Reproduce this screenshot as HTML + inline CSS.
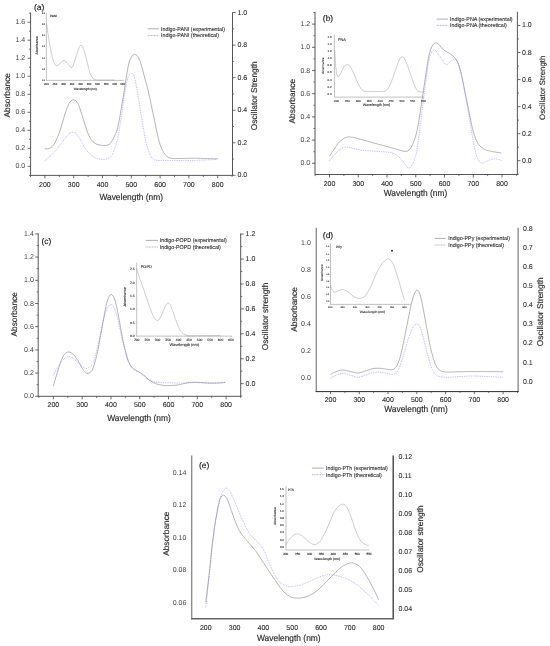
<!DOCTYPE html>
<html lang="en"><head><meta charset="utf-8"><title>UV-Vis spectra</title>
<style>
html,body{margin:0;padding:0;background:#fff;}
svg{display:block;font-family:"Liberation Sans",Arial,sans-serif;text-rendering:geometricPrecision;}
</style></head><body>
<svg width="550" height="646" viewBox="0 0 550 646">
<rect width="550" height="646" fill="#fff"/>
<g filter="url(#soft)">
<line x1="30.60" y1="12.60" x2="30.60" y2="175.80" stroke="#444444" stroke-width="0.9" />
<line x1="232.50" y1="12.60" x2="232.50" y2="175.80" stroke="#444444" stroke-width="0.9" />
<line x1="30.60" y1="175.40" x2="232.50" y2="175.40" stroke="#444444" stroke-width="0.9" />
<line x1="27.60" y1="166.35" x2="30.60" y2="166.35" stroke="#444444" stroke-width="0.8" />
<text x="25.20" y="165.85" font-size="7.0" text-anchor="end" fill="#444" dy="2.51" >0.0</text>
<line x1="27.60" y1="148.33" x2="30.60" y2="148.33" stroke="#444444" stroke-width="0.8" />
<text x="25.20" y="147.83" font-size="7.0" text-anchor="end" fill="#444" dy="2.51" >0.2</text>
<line x1="27.60" y1="130.31" x2="30.60" y2="130.31" stroke="#444444" stroke-width="0.8" />
<text x="25.20" y="129.81" font-size="7.0" text-anchor="end" fill="#444" dy="2.51" >0.4</text>
<line x1="27.60" y1="112.29" x2="30.60" y2="112.29" stroke="#444444" stroke-width="0.8" />
<text x="25.20" y="111.79" font-size="7.0" text-anchor="end" fill="#444" dy="2.51" >0.6</text>
<line x1="27.60" y1="94.27" x2="30.60" y2="94.27" stroke="#444444" stroke-width="0.8" />
<text x="25.20" y="93.77" font-size="7.0" text-anchor="end" fill="#444" dy="2.51" >0.8</text>
<line x1="27.60" y1="76.25" x2="30.60" y2="76.25" stroke="#444444" stroke-width="0.8" />
<text x="25.20" y="75.75" font-size="7.0" text-anchor="end" fill="#444" dy="2.51" >1.0</text>
<line x1="27.60" y1="58.23" x2="30.60" y2="58.23" stroke="#444444" stroke-width="0.8" />
<text x="25.20" y="57.73" font-size="7.0" text-anchor="end" fill="#444" dy="2.51" >1.2</text>
<line x1="27.60" y1="40.21" x2="30.60" y2="40.21" stroke="#444444" stroke-width="0.8" />
<text x="25.20" y="39.71" font-size="7.0" text-anchor="end" fill="#444" dy="2.51" >1.4</text>
<line x1="27.60" y1="22.19" x2="30.60" y2="22.19" stroke="#444444" stroke-width="0.8" />
<text x="25.20" y="21.69" font-size="7.0" text-anchor="end" fill="#444" dy="2.51" >1.6</text>
<line x1="29.00" y1="175.36" x2="30.60" y2="175.36" stroke="#444444" stroke-width="0.7" />
<line x1="29.00" y1="157.34" x2="30.60" y2="157.34" stroke="#444444" stroke-width="0.7" />
<line x1="29.00" y1="139.32" x2="30.60" y2="139.32" stroke="#444444" stroke-width="0.7" />
<line x1="29.00" y1="121.30" x2="30.60" y2="121.30" stroke="#444444" stroke-width="0.7" />
<line x1="29.00" y1="103.28" x2="30.60" y2="103.28" stroke="#444444" stroke-width="0.7" />
<line x1="29.00" y1="85.26" x2="30.60" y2="85.26" stroke="#444444" stroke-width="0.7" />
<line x1="29.00" y1="67.24" x2="30.60" y2="67.24" stroke="#444444" stroke-width="0.7" />
<line x1="29.00" y1="49.22" x2="30.60" y2="49.22" stroke="#444444" stroke-width="0.7" />
<line x1="29.00" y1="31.20" x2="30.60" y2="31.20" stroke="#444444" stroke-width="0.7" />
<line x1="29.00" y1="13.18" x2="30.60" y2="13.18" stroke="#444444" stroke-width="0.7" />
<line x1="232.50" y1="175.30" x2="235.50" y2="175.30" stroke="#444444" stroke-width="0.8" />
<text x="237.50" y="174.80" font-size="7.0" text-anchor="start" fill="#2a2a2a" dy="2.51" stroke="#2a2a2a" stroke-width="0.08">0.0</text>
<line x1="232.50" y1="142.75" x2="235.50" y2="142.75" stroke="#444444" stroke-width="0.8" />
<text x="237.50" y="142.25" font-size="7.0" text-anchor="start" fill="#2a2a2a" dy="2.51" stroke="#2a2a2a" stroke-width="0.08">0.2</text>
<line x1="232.50" y1="110.20" x2="235.50" y2="110.20" stroke="#444444" stroke-width="0.8" />
<text x="237.50" y="109.70" font-size="7.0" text-anchor="start" fill="#2a2a2a" dy="2.51" stroke="#2a2a2a" stroke-width="0.08">0.4</text>
<line x1="232.50" y1="77.65" x2="235.50" y2="77.65" stroke="#444444" stroke-width="0.8" />
<text x="237.50" y="77.15" font-size="7.0" text-anchor="start" fill="#2a2a2a" dy="2.51" stroke="#2a2a2a" stroke-width="0.08">0.6</text>
<line x1="232.50" y1="45.10" x2="235.50" y2="45.10" stroke="#444444" stroke-width="0.8" />
<text x="237.50" y="44.60" font-size="7.0" text-anchor="start" fill="#2a2a2a" dy="2.51" stroke="#2a2a2a" stroke-width="0.08">0.8</text>
<line x1="232.50" y1="12.55" x2="235.50" y2="12.55" stroke="#444444" stroke-width="0.8" />
<text x="237.50" y="12.05" font-size="7.0" text-anchor="start" fill="#2a2a2a" dy="2.51" stroke="#2a2a2a" stroke-width="0.08">1.0</text>
<line x1="232.50" y1="159.03" x2="234.10" y2="159.03" stroke="#444444" stroke-width="0.7" />
<line x1="232.50" y1="126.48" x2="234.10" y2="126.48" stroke="#444444" stroke-width="0.7" />
<line x1="232.50" y1="93.93" x2="234.10" y2="93.93" stroke="#444444" stroke-width="0.7" />
<line x1="232.50" y1="61.38" x2="234.10" y2="61.38" stroke="#444444" stroke-width="0.7" />
<line x1="232.50" y1="28.83" x2="234.10" y2="28.83" stroke="#444444" stroke-width="0.7" />
<line x1="44.90" y1="175.40" x2="44.90" y2="178.40" stroke="#444444" stroke-width="0.8" />
<text x="44.90" y="184.25" font-size="7.0" text-anchor="middle" fill="#222" dy="2.51" stroke="#222" stroke-width="0.08">200</text>
<line x1="73.70" y1="175.40" x2="73.70" y2="178.40" stroke="#444444" stroke-width="0.8" />
<text x="73.70" y="184.25" font-size="7.0" text-anchor="middle" fill="#222" dy="2.51" stroke="#222" stroke-width="0.08">300</text>
<line x1="102.50" y1="175.40" x2="102.50" y2="178.40" stroke="#444444" stroke-width="0.8" />
<text x="102.50" y="184.25" font-size="7.0" text-anchor="middle" fill="#222" dy="2.51" stroke="#222" stroke-width="0.08">400</text>
<line x1="131.30" y1="175.40" x2="131.30" y2="178.40" stroke="#444444" stroke-width="0.8" />
<text x="131.30" y="184.25" font-size="7.0" text-anchor="middle" fill="#222" dy="2.51" stroke="#222" stroke-width="0.08">500</text>
<line x1="160.10" y1="175.40" x2="160.10" y2="178.40" stroke="#444444" stroke-width="0.8" />
<text x="160.10" y="184.25" font-size="7.0" text-anchor="middle" fill="#222" dy="2.51" stroke="#222" stroke-width="0.08">600</text>
<line x1="188.90" y1="175.40" x2="188.90" y2="178.40" stroke="#444444" stroke-width="0.8" />
<text x="188.90" y="184.25" font-size="7.0" text-anchor="middle" fill="#222" dy="2.51" stroke="#222" stroke-width="0.08">700</text>
<line x1="217.70" y1="175.40" x2="217.70" y2="178.40" stroke="#444444" stroke-width="0.8" />
<text x="217.70" y="184.25" font-size="7.0" text-anchor="middle" fill="#222" dy="2.51" stroke="#222" stroke-width="0.08">800</text>
<line x1="30.50" y1="175.40" x2="30.50" y2="177.00" stroke="#444444" stroke-width="0.7" />
<line x1="59.30" y1="175.40" x2="59.30" y2="177.00" stroke="#444444" stroke-width="0.7" />
<line x1="88.10" y1="175.40" x2="88.10" y2="177.00" stroke="#444444" stroke-width="0.7" />
<line x1="116.90" y1="175.40" x2="116.90" y2="177.00" stroke="#444444" stroke-width="0.7" />
<line x1="145.70" y1="175.40" x2="145.70" y2="177.00" stroke="#444444" stroke-width="0.7" />
<line x1="174.50" y1="175.40" x2="174.50" y2="177.00" stroke="#444444" stroke-width="0.7" />
<line x1="203.30" y1="175.40" x2="203.30" y2="177.00" stroke="#444444" stroke-width="0.7" />
<line x1="232.10" y1="175.40" x2="232.10" y2="177.00" stroke="#444444" stroke-width="0.7" />
<text transform="translate(131.20 196.50) scale(0.95 1)" font-size="8.85" text-anchor="middle" fill="#2a2a2a" dy="3.17" stroke="#222" stroke-width="0.15">Wavelength (nm)</text>
<text x="7.40" y="95.30" font-size="8.35" text-anchor="middle" fill="#2a2a2a" dy="2.99" transform="rotate(-90 7.40 95.30)" stroke="#222" stroke-width="0.15">Absorbance</text>
<text x="253.80" y="95.70" font-size="8.4" text-anchor="middle" fill="#2a2a2a" dy="3.01" transform="rotate(-90 253.80 95.70)" stroke="#222" stroke-width="0.15">Oscillator Strength</text>
<text transform="translate(33.90 6.95) scale(1.045 1)" font-size="8.15" text-anchor="start" fill="#111" dy="2.92" stroke="#111" stroke-width="0.1">(a)</text>
<line x1="147.70" y1="28.80" x2="159.20" y2="28.80" stroke="#999" stroke-width="0.8" />
<line x1="147.70" y1="35.40" x2="159.20" y2="35.40" stroke="#7a7aff" stroke-width="0.7" stroke-dasharray="0.9 0.7"/>
<text transform="translate(161.00 28.80) scale(0.957 1)" font-size="5.590749999999999" text-anchor="start" fill="#2a2a2a" dy="2.00" stroke="#2a2a2a" stroke-width="0.1">Indigo-PANI (experimental)</text>
<text transform="translate(161.00 35.40) scale(0.957 1)" font-size="5.590749999999999" text-anchor="start" fill="#2a2a2a" dy="2.00" stroke="#2a2a2a" stroke-width="0.1">Indigo-PANI (theoretical)</text>
<path d="M44.9,148.9 L45.7,148.9 L46.5,148.8 L47.3,148.8 L48.1,148.7 L48.9,148.5 L49.7,148.2 L50.5,147.8 L51.3,147.2 L52.1,146.5 L52.9,145.7 L53.7,144.7 L54.5,143.4 L55.3,142.0 L56.1,140.4 L56.9,138.6 L57.7,136.8 L58.5,134.8 L59.3,132.6 L60.1,130.3 L60.9,127.8 L61.7,125.1 L62.5,122.3 L63.3,119.6 L64.1,116.9 L64.9,114.4 L65.7,111.9 L66.5,109.6 L67.3,107.4 L68.1,105.4 L68.9,103.7 L69.7,102.4 L70.5,101.4 L71.3,100.6 L72.1,100.1 L72.9,99.9 L73.7,99.8 L74.5,100.0 L75.3,100.4 L76.1,101.0 L76.9,102.0 L77.7,103.3 L78.5,104.8 L79.3,106.7 L80.1,109.0 L80.9,111.5 L81.7,114.1 L82.5,116.6 L83.3,119.2 L84.1,121.7 L84.9,124.3 L85.7,126.8 L86.5,129.4 L87.3,131.8 L88.1,133.8 L88.9,135.6 L89.7,137.2 L90.5,138.6 L91.3,139.7 L92.1,140.7 L92.9,141.6 L93.7,142.3 L94.5,142.9 L95.3,143.4 L96.1,143.9 L96.9,144.3 L97.7,144.5 L98.5,144.7 L99.3,144.9 L100.1,145.1 L100.9,145.2 L101.7,145.3 L102.5,145.4 L103.3,145.5 L104.1,145.5 L104.9,145.5 L105.7,145.5 L106.5,145.4 L107.3,145.1 L108.1,144.9 L108.9,144.5 L109.7,143.9 L110.5,143.1 L111.3,142.1 L112.1,140.8 L112.9,139.2 L113.7,137.6 L114.5,136.0 L115.3,134.4 L116.1,132.7 L116.9,130.5 L117.7,127.7 L118.5,124.1 L119.3,119.9 L120.1,115.3 L120.9,110.6 L121.7,105.8 L122.5,101.1 L123.3,96.2 L124.1,91.4 L124.9,86.4 L125.7,81.3 L126.5,76.2 L127.3,71.2 L128.1,66.7 L128.9,63.4 L129.7,60.8 L130.5,58.8 L131.3,57.1 L132.1,55.9 L132.9,55.2 L133.7,54.7 L134.5,54.4 L135.3,54.5 L136.1,54.8 L136.9,55.4 L137.7,56.3 L138.5,57.5 L139.3,59.1 L140.1,61.3 L140.9,63.9 L141.7,66.6 L142.5,69.4 L143.3,72.4 L144.1,75.4 L144.9,78.4 L145.7,81.3 L146.5,84.2 L147.3,87.3 L148.1,90.5 L148.9,94.0 L149.7,97.7 L150.5,101.4 L151.3,105.2 L152.1,109.0 L152.9,112.8 L153.7,116.6 L154.5,120.4 L155.3,124.2 L156.1,128.0 L156.9,131.8 L157.7,135.6 L158.5,139.2 L159.3,142.2 L160.1,144.6 L160.9,146.7 L161.7,148.7 L162.5,150.4 L163.3,151.9 L164.1,153.1 L164.9,154.3 L165.7,155.3 L166.5,156.1 L167.3,156.7 L168.1,157.2 L168.9,157.6 L169.7,157.9 L170.5,158.1 L171.3,158.2 L172.1,158.4 L172.9,158.5 L173.7,158.6 L174.5,158.6 L175.3,158.6 L176.1,158.6 L176.9,158.6 L177.7,158.5 L178.5,158.5 L179.3,158.5 L180.1,158.5 L180.9,158.5 L181.7,158.5 L182.5,158.5 L183.3,158.4 L184.1,158.4 L184.9,158.4 L185.7,158.4 L186.5,158.4 L187.3,158.4 L188.1,158.3 L188.9,158.3 L189.7,158.3 L190.5,158.3 L191.3,158.3 L192.1,158.3 L192.9,158.2 L193.7,158.2 L194.5,158.2 L195.3,158.2 L196.1,158.2 L196.9,158.2 L197.7,158.2 L198.5,158.2 L199.3,158.3 L200.1,158.3 L200.9,158.3 L201.7,158.4 L202.5,158.4 L203.3,158.4 L204.1,158.5 L204.9,158.5 L205.7,158.5 L206.5,158.5 L207.3,158.5 L208.1,158.6 L208.9,158.6 L209.7,158.6 L210.5,158.6 L211.3,158.6 L212.1,158.6 L212.9,158.6 L213.7,158.7 L214.5,158.7 L215.3,158.7 L216.1,158.7 L216.9,158.7 L217.5,158.7" fill="none" stroke="#6a6a6a" stroke-width="0.5" stroke-linejoin="round"/>
<path d="M44.9,160.6 L45.7,160.0 L46.5,159.3 L47.3,158.6 L48.1,158.0 L48.9,157.3 L49.7,156.6 L50.5,155.8 L51.3,155.1 L52.1,154.3 L52.9,153.6 L53.7,152.7 L54.5,151.9 L55.3,151.0 L56.1,150.1 L56.9,149.1 L57.7,148.1 L58.5,147.1 L59.3,146.0 L60.1,145.0 L60.9,143.9 L61.7,142.9 L62.5,141.7 L63.3,140.6 L64.1,139.5 L64.9,138.4 L65.7,137.3 L66.5,136.4 L67.3,135.5 L68.1,134.7 L68.9,133.9 L69.7,133.3 L70.5,132.9 L71.3,132.6 L72.1,132.4 L72.9,132.3 L73.7,132.4 L74.5,132.6 L75.3,133.0 L76.1,133.6 L76.9,134.5 L77.7,135.5 L78.5,136.7 L79.3,138.0 L80.1,139.4 L80.9,140.9 L81.7,142.4 L82.5,143.9 L83.3,145.3 L84.1,146.6 L84.9,147.9 L85.7,149.1 L86.5,150.2 L87.3,151.2 L88.1,152.2 L88.9,153.0 L89.7,153.8 L90.5,154.5 L91.3,155.1 L92.1,155.7 L92.9,156.3 L93.7,156.8 L94.5,157.3 L95.3,157.7 L96.1,158.0 L96.9,158.3 L97.7,158.6 L98.5,158.8 L99.3,159.0 L100.1,159.2 L100.9,159.3 L101.7,159.4 L102.5,159.4 L103.3,159.5 L104.1,159.4 L104.9,159.3 L105.7,159.2 L106.5,159.0 L107.3,158.8 L108.1,158.5 L108.9,158.2 L109.7,157.8 L110.5,157.1 L111.3,156.2 L112.1,155.1 L112.9,153.6 L113.7,151.5 L114.5,149.2 L115.3,146.7 L116.1,144.0 L116.9,141.1 L117.7,137.8 L118.5,133.9 L119.3,129.6 L120.1,124.9 L120.9,119.9 L121.7,114.6 L122.5,108.8 L123.3,102.9 L124.1,97.3 L124.9,92.3 L125.7,87.6 L126.5,83.5 L127.3,80.0 L128.1,77.4 L128.9,75.5 L129.7,74.3 L130.5,73.6 L131.3,73.3 L132.1,73.4 L132.9,74.1 L133.7,75.4 L134.5,77.5 L135.3,80.5 L136.1,84.6 L136.9,89.1 L137.7,93.8 L138.5,98.6 L139.3,103.5 L140.1,108.4 L140.9,113.3 L141.7,118.2 L142.5,123.0 L143.3,127.7 L144.1,132.3 L144.9,136.8 L145.7,140.7 L146.5,144.0 L147.3,146.8 L148.1,149.3 L148.9,151.7 L149.7,153.9 L150.5,155.6 L151.3,157.0 L152.1,158.0 L152.9,158.9 L153.7,159.6 L154.5,160.0 L155.3,160.1 L156.1,160.2 L156.9,160.3 L157.7,160.4 L158.5,160.4 L159.3,160.5 L160.1,160.5 L160.9,160.5 L161.7,160.5 L162.5,160.5 L163.3,160.5 L164.1,160.5 L164.9,160.5 L165.7,160.6 L166.5,160.6 L167.3,160.6 L168.1,160.6 L168.9,160.6 L169.7,160.6 L170.5,160.6 L171.3,160.6 L172.1,160.6 L172.9,160.6 L173.7,160.6 L174.5,160.6 L175.3,160.6 L176.1,160.6 L176.9,160.6 L177.7,160.6 L178.5,160.6 L179.3,160.6 L180.1,160.6 L180.9,160.6 L181.7,160.6 L182.5,160.6 L183.3,160.6 L184.1,160.6 L184.9,160.6 L185.7,160.6 L186.5,160.6 L187.3,160.6 L188.1,160.5 L188.9,160.5 L189.7,160.5 L190.5,160.5 L191.3,160.5 L192.1,160.4 L192.9,160.4 L193.7,160.4 L194.5,160.4 L195.3,160.3 L196.1,160.3 L196.9,160.3 L197.7,160.3 L198.5,160.2 L199.3,160.2 L200.1,160.2 L200.9,160.2 L201.7,160.1 L202.5,160.1 L203.3,160.1 L204.1,160.0 L204.9,160.0 L205.7,160.0 L206.5,159.9 L207.3,159.9 L208.1,159.9 L208.9,159.8 L209.7,159.8 L210.5,159.8 L211.3,159.8 L212.1,159.7 L212.9,159.7 L213.7,159.7 L214.5,159.6 L215.3,159.6 L216.1,159.6 L216.9,159.5 L217.5,159.5" fill="none" stroke="#6666ff" stroke-width="0.52" stroke-linejoin="round" stroke-dasharray="0.85 0.95"/>
<line x1="46.40" y1="13.10" x2="46.40" y2="80.40" stroke="#777" stroke-width="0.45" />
<line x1="46.40" y1="80.40" x2="123.60" y2="80.40" stroke="#777" stroke-width="0.45" />
<text x="43.50" y="12.80" font-size="2.2" text-anchor="middle" fill="#111" dy="0.79" stroke="#111" stroke-width="0.08">3.0</text>
<text x="43.50" y="23.90" font-size="2.2" text-anchor="middle" fill="#111" dy="0.79" stroke="#111" stroke-width="0.08">2.5</text>
<text x="43.50" y="35.20" font-size="2.2" text-anchor="middle" fill="#111" dy="0.79" stroke="#111" stroke-width="0.08">2.0</text>
<text x="43.50" y="46.40" font-size="2.2" text-anchor="middle" fill="#111" dy="0.79" stroke="#111" stroke-width="0.08">1.5</text>
<text x="43.50" y="57.80" font-size="2.2" text-anchor="middle" fill="#111" dy="0.79" stroke="#111" stroke-width="0.08">1.0</text>
<text x="43.50" y="69.30" font-size="2.2" text-anchor="middle" fill="#111" dy="0.79" stroke="#111" stroke-width="0.08">0.5</text>
<text x="43.50" y="80.40" font-size="2.2" text-anchor="middle" fill="#111" dy="0.79" stroke="#111" stroke-width="0.08">0.0</text>
<text x="46.40" y="84.20" font-size="2.75" text-anchor="middle" fill="#111" dy="0.98" stroke="#111" stroke-width="0.08">200</text>
<text x="54.90" y="84.20" font-size="2.75" text-anchor="middle" fill="#111" dy="0.98" stroke="#111" stroke-width="0.08">250</text>
<text x="63.50" y="84.20" font-size="2.75" text-anchor="middle" fill="#111" dy="0.98" stroke="#111" stroke-width="0.08">300</text>
<text x="72.00" y="84.20" font-size="2.75" text-anchor="middle" fill="#111" dy="0.98" stroke="#111" stroke-width="0.08">350</text>
<text x="80.50" y="84.20" font-size="2.75" text-anchor="middle" fill="#111" dy="0.98" stroke="#111" stroke-width="0.08">400</text>
<text x="89.10" y="84.20" font-size="2.75" text-anchor="middle" fill="#111" dy="0.98" stroke="#111" stroke-width="0.08">450</text>
<text x="97.60" y="84.20" font-size="2.75" text-anchor="middle" fill="#111" dy="0.98" stroke="#111" stroke-width="0.08">500</text>
<text x="106.20" y="84.20" font-size="2.75" text-anchor="middle" fill="#111" dy="0.98" stroke="#111" stroke-width="0.08">550</text>
<text x="114.70" y="84.20" font-size="2.75" text-anchor="middle" fill="#111" dy="0.98" stroke="#111" stroke-width="0.08">600</text>
<text x="122.70" y="84.20" font-size="2.75" text-anchor="middle" fill="#111" dy="0.98" stroke="#111" stroke-width="0.08">650</text>
<text x="85.30" y="89.40" font-size="3.05" text-anchor="middle" fill="#111" dy="1.09" stroke="#111" stroke-width="0.08">Wavelength (nm)</text>
<text x="36.40" y="45.30" font-size="3.5" text-anchor="middle" fill="#111" dy="1.25" transform="rotate(-90 36.40 45.30)" stroke="#111" stroke-width="0.08">Absorbance</text>
<text x="49.80" y="15.85" font-size="3.1" text-anchor="start" fill="#111" dy="1.11" stroke="#111" stroke-width="0.08">PANI</text>
<path d="M46.7,24.0 L47.5,30.0 L48.3,35.5 L49.1,40.7 L49.9,45.6 L50.7,50.0 L51.5,53.9 L52.3,57.4 L53.1,60.1 L53.9,62.3 L54.7,63.9 L55.5,65.1 L56.3,65.9 L57.1,65.7 L57.9,65.1 L58.7,64.5 L59.5,63.9 L60.3,63.2 L61.1,62.5 L61.9,61.6 L62.7,60.9 L63.5,60.4 L64.3,60.4 L65.1,61.0 L65.9,61.9 L66.7,62.9 L67.5,63.7 L68.3,64.6 L69.1,65.5 L69.9,66.5 L70.7,67.3 L71.5,67.7 L72.3,67.2 L73.1,65.8 L73.9,63.5 L74.7,60.9 L75.5,58.2 L76.3,55.6 L77.1,53.1 L77.9,50.7 L78.7,48.3 L79.5,46.2 L80.3,45.4 L81.1,45.3 L81.9,45.7 L82.7,46.7 L83.5,48.6 L84.3,51.2 L85.1,54.0 L85.9,57.0 L86.7,60.1 L87.5,63.4 L88.3,66.7 L89.1,69.8 L89.9,72.5 L90.7,74.6 L91.5,76.2 L92.3,77.4 L93.1,78.4 L93.9,79.0 L94.7,79.4 L95.5,79.6 L96.3,79.8 L97.1,79.9 L97.9,80.0 L98.7,80.0 L99.5,80.0 L100.3,80.0 L101.1,80.0 L101.9,80.0 L102.7,80.0 L103.5,80.0 L104.3,80.0 L105.1,80.0 L105.9,80.0 L106.7,80.0 L107.5,80.0 L108.3,80.0 L109.1,80.0 L109.9,80.0 L110.7,80.0 L111.5,80.0 L112.3,80.0 L113.1,80.0 L113.9,80.0 L114.7,80.0 L114.7,80.0" fill="none" stroke="#888" stroke-width="0.42" stroke-linejoin="round"/>
<line x1="315.00" y1="11.80" x2="315.00" y2="174.90" stroke="#444444" stroke-width="0.9" />
<line x1="517.40" y1="11.80" x2="517.40" y2="174.90" stroke="#444444" stroke-width="0.9" />
<line x1="315.00" y1="174.50" x2="517.40" y2="174.50" stroke="#444444" stroke-width="0.9" />
<line x1="312.00" y1="163.30" x2="315.00" y2="163.30" stroke="#444444" stroke-width="0.8" />
<text x="310.20" y="162.80" font-size="7.0" text-anchor="end" fill="#444" dy="2.51" >0.0</text>
<line x1="312.00" y1="140.10" x2="315.00" y2="140.10" stroke="#444444" stroke-width="0.8" />
<text x="310.20" y="139.60" font-size="7.0" text-anchor="end" fill="#444" dy="2.51" >0.2</text>
<line x1="312.00" y1="116.90" x2="315.00" y2="116.90" stroke="#444444" stroke-width="0.8" />
<text x="310.20" y="116.40" font-size="7.0" text-anchor="end" fill="#444" dy="2.51" >0.4</text>
<line x1="312.00" y1="93.70" x2="315.00" y2="93.70" stroke="#444444" stroke-width="0.8" />
<text x="310.20" y="93.20" font-size="7.0" text-anchor="end" fill="#444" dy="2.51" >0.6</text>
<line x1="312.00" y1="70.50" x2="315.00" y2="70.50" stroke="#444444" stroke-width="0.8" />
<text x="310.20" y="70.00" font-size="7.0" text-anchor="end" fill="#444" dy="2.51" >0.8</text>
<line x1="312.00" y1="47.30" x2="315.00" y2="47.30" stroke="#444444" stroke-width="0.8" />
<text x="310.20" y="46.80" font-size="7.0" text-anchor="end" fill="#444" dy="2.51" >1.0</text>
<line x1="312.00" y1="24.10" x2="315.00" y2="24.10" stroke="#444444" stroke-width="0.8" />
<text x="310.20" y="23.60" font-size="7.0" text-anchor="end" fill="#444" dy="2.51" >1.2</text>
<line x1="313.40" y1="151.70" x2="315.00" y2="151.70" stroke="#444444" stroke-width="0.7" />
<line x1="313.40" y1="128.50" x2="315.00" y2="128.50" stroke="#444444" stroke-width="0.7" />
<line x1="313.40" y1="105.30" x2="315.00" y2="105.30" stroke="#444444" stroke-width="0.7" />
<line x1="313.40" y1="82.10" x2="315.00" y2="82.10" stroke="#444444" stroke-width="0.7" />
<line x1="313.40" y1="58.90" x2="315.00" y2="58.90" stroke="#444444" stroke-width="0.7" />
<line x1="313.40" y1="35.70" x2="315.00" y2="35.70" stroke="#444444" stroke-width="0.7" />
<line x1="313.40" y1="12.50" x2="315.00" y2="12.50" stroke="#444444" stroke-width="0.7" />
<line x1="517.40" y1="160.70" x2="520.40" y2="160.70" stroke="#444444" stroke-width="0.8" />
<text x="522.00" y="160.20" font-size="7.0" text-anchor="start" fill="#2a2a2a" dy="2.51" stroke="#2a2a2a" stroke-width="0.08">0.0</text>
<line x1="517.40" y1="133.65" x2="520.40" y2="133.65" stroke="#444444" stroke-width="0.8" />
<text x="522.00" y="133.15" font-size="7.0" text-anchor="start" fill="#2a2a2a" dy="2.51" stroke="#2a2a2a" stroke-width="0.08">0.2</text>
<line x1="517.40" y1="106.60" x2="520.40" y2="106.60" stroke="#444444" stroke-width="0.8" />
<text x="522.00" y="106.10" font-size="7.0" text-anchor="start" fill="#2a2a2a" dy="2.51" stroke="#2a2a2a" stroke-width="0.08">0.4</text>
<line x1="517.40" y1="79.55" x2="520.40" y2="79.55" stroke="#444444" stroke-width="0.8" />
<text x="522.00" y="79.05" font-size="7.0" text-anchor="start" fill="#2a2a2a" dy="2.51" stroke="#2a2a2a" stroke-width="0.08">0.6</text>
<line x1="517.40" y1="52.50" x2="520.40" y2="52.50" stroke="#444444" stroke-width="0.8" />
<text x="522.00" y="52.00" font-size="7.0" text-anchor="start" fill="#2a2a2a" dy="2.51" stroke="#2a2a2a" stroke-width="0.08">0.8</text>
<line x1="517.40" y1="25.45" x2="520.40" y2="25.45" stroke="#444444" stroke-width="0.8" />
<text x="522.00" y="24.95" font-size="7.0" text-anchor="start" fill="#2a2a2a" dy="2.51" stroke="#2a2a2a" stroke-width="0.08">1.0</text>
<line x1="517.40" y1="174.22" x2="519.00" y2="174.22" stroke="#444444" stroke-width="0.7" />
<line x1="517.40" y1="147.17" x2="519.00" y2="147.17" stroke="#444444" stroke-width="0.7" />
<line x1="517.40" y1="120.12" x2="519.00" y2="120.12" stroke="#444444" stroke-width="0.7" />
<line x1="517.40" y1="93.07" x2="519.00" y2="93.07" stroke="#444444" stroke-width="0.7" />
<line x1="517.40" y1="66.02" x2="519.00" y2="66.02" stroke="#444444" stroke-width="0.7" />
<line x1="517.40" y1="38.97" x2="519.00" y2="38.97" stroke="#444444" stroke-width="0.7" />
<line x1="329.50" y1="174.50" x2="329.50" y2="177.50" stroke="#444444" stroke-width="0.8" />
<text x="329.50" y="183.25" font-size="7.0" text-anchor="middle" fill="#222" dy="2.51" stroke="#222" stroke-width="0.08">200</text>
<line x1="358.25" y1="174.50" x2="358.25" y2="177.50" stroke="#444444" stroke-width="0.8" />
<text x="358.25" y="183.25" font-size="7.0" text-anchor="middle" fill="#222" dy="2.51" stroke="#222" stroke-width="0.08">300</text>
<line x1="387.00" y1="174.50" x2="387.00" y2="177.50" stroke="#444444" stroke-width="0.8" />
<text x="387.00" y="183.25" font-size="7.0" text-anchor="middle" fill="#222" dy="2.51" stroke="#222" stroke-width="0.08">400</text>
<line x1="415.75" y1="174.50" x2="415.75" y2="177.50" stroke="#444444" stroke-width="0.8" />
<text x="415.75" y="183.25" font-size="7.0" text-anchor="middle" fill="#222" dy="2.51" stroke="#222" stroke-width="0.08">500</text>
<line x1="444.50" y1="174.50" x2="444.50" y2="177.50" stroke="#444444" stroke-width="0.8" />
<text x="444.50" y="183.25" font-size="7.0" text-anchor="middle" fill="#222" dy="2.51" stroke="#222" stroke-width="0.08">600</text>
<line x1="473.25" y1="174.50" x2="473.25" y2="177.50" stroke="#444444" stroke-width="0.8" />
<text x="473.25" y="183.25" font-size="7.0" text-anchor="middle" fill="#222" dy="2.51" stroke="#222" stroke-width="0.08">700</text>
<line x1="502.00" y1="174.50" x2="502.00" y2="177.50" stroke="#444444" stroke-width="0.8" />
<text x="502.00" y="183.25" font-size="7.0" text-anchor="middle" fill="#222" dy="2.51" stroke="#222" stroke-width="0.08">800</text>
<line x1="315.12" y1="174.50" x2="315.12" y2="176.10" stroke="#444444" stroke-width="0.7" />
<line x1="343.88" y1="174.50" x2="343.88" y2="176.10" stroke="#444444" stroke-width="0.7" />
<line x1="372.62" y1="174.50" x2="372.62" y2="176.10" stroke="#444444" stroke-width="0.7" />
<line x1="401.38" y1="174.50" x2="401.38" y2="176.10" stroke="#444444" stroke-width="0.7" />
<line x1="430.12" y1="174.50" x2="430.12" y2="176.10" stroke="#444444" stroke-width="0.7" />
<line x1="458.88" y1="174.50" x2="458.88" y2="176.10" stroke="#444444" stroke-width="0.7" />
<line x1="487.62" y1="174.50" x2="487.62" y2="176.10" stroke="#444444" stroke-width="0.7" />
<line x1="516.38" y1="174.50" x2="516.38" y2="176.10" stroke="#444444" stroke-width="0.7" />
<text transform="translate(415.50 192.50) scale(0.95 1)" font-size="8.85" text-anchor="middle" fill="#2a2a2a" dy="3.17" stroke="#222" stroke-width="0.15">Wavelength (nm)</text>
<text x="292.20" y="101.20" font-size="8.33" text-anchor="middle" fill="#2a2a2a" dy="2.98" transform="rotate(-90 292.20 101.20)" stroke="#222" stroke-width="0.15">Absorbance</text>
<text x="542.20" y="87.80" font-size="7.8" text-anchor="middle" fill="#2a2a2a" dy="2.79" transform="rotate(-90 542.20 87.80)" stroke="#222" stroke-width="0.15">Oscillator Strength</text>
<text transform="translate(322.80 17.75) scale(1.045 1)" font-size="8.15" text-anchor="start" fill="#111" dy="2.92" stroke="#111" stroke-width="0.1">(b)</text>
<line x1="436.70" y1="19.10" x2="448.00" y2="19.10" stroke="#999" stroke-width="0.8" />
<line x1="436.70" y1="25.40" x2="448.00" y2="25.40" stroke="#7a7aff" stroke-width="0.7" stroke-dasharray="0.9 0.7"/>
<text transform="translate(450.00 19.10) scale(0.957 1)" font-size="5.590749999999999" text-anchor="start" fill="#2a2a2a" dy="2.00" stroke="#2a2a2a" stroke-width="0.1">Indigo-PNA (experimental)</text>
<text transform="translate(450.00 25.40) scale(0.957 1)" font-size="5.590749999999999" text-anchor="start" fill="#2a2a2a" dy="2.00" stroke="#2a2a2a" stroke-width="0.1">Indigo-PNA (theoretical)</text>
<path d="M329.4,156.2 L330.2,155.1 L331.0,153.9 L331.8,152.7 L332.6,151.6 L333.4,150.4 L334.2,149.2 L335.0,148.0 L335.8,146.8 L336.6,145.6 L337.4,144.4 L338.2,143.4 L339.0,142.5 L339.8,141.7 L340.6,140.9 L341.4,140.1 L342.2,139.5 L343.0,138.9 L343.8,138.4 L344.6,138.0 L345.4,137.6 L346.2,137.4 L347.0,137.1 L347.8,137.0 L348.6,136.9 L349.4,136.9 L350.2,137.0 L351.0,137.1 L351.8,137.2 L352.6,137.3 L353.4,137.4 L354.2,137.6 L355.0,137.8 L355.8,138.0 L356.6,138.2 L357.4,138.4 L358.2,138.7 L359.0,138.9 L359.8,139.1 L360.6,139.3 L361.4,139.5 L362.2,139.7 L363.0,139.9 L363.8,140.2 L364.6,140.4 L365.4,140.6 L366.2,140.8 L367.0,141.1 L367.8,141.3 L368.6,141.5 L369.4,141.7 L370.2,142.0 L371.0,142.2 L371.8,142.4 L372.6,142.6 L373.4,142.9 L374.2,143.1 L375.0,143.3 L375.8,143.5 L376.6,143.7 L377.4,144.0 L378.2,144.2 L379.0,144.4 L379.8,144.6 L380.6,144.8 L381.4,145.0 L382.2,145.2 L383.0,145.5 L383.8,145.7 L384.6,145.9 L385.4,146.1 L386.2,146.3 L387.0,146.6 L387.8,146.8 L388.6,147.0 L389.4,147.2 L390.2,147.4 L391.0,147.7 L391.8,147.9 L392.6,148.1 L393.4,148.3 L394.2,148.6 L395.0,148.8 L395.8,149.0 L396.6,149.3 L397.4,149.5 L398.2,149.8 L399.0,150.0 L399.8,150.2 L400.6,150.5 L401.4,150.7 L402.2,150.9 L403.0,151.1 L403.8,151.2 L404.6,151.4 L405.4,151.4 L406.2,151.3 L407.0,151.2 L407.8,150.9 L408.6,150.3 L409.4,149.6 L410.2,148.7 L411.0,147.5 L411.8,146.0 L412.6,144.4 L413.4,142.6 L414.2,140.6 L415.0,138.3 L415.8,135.6 L416.6,132.3 L417.4,128.6 L418.2,124.5 L419.0,119.9 L419.8,114.9 L420.6,109.5 L421.4,104.1 L422.2,98.8 L423.0,93.4 L423.8,88.1 L424.6,82.7 L425.4,77.3 L426.2,72.0 L427.0,66.6 L427.8,61.4 L428.6,57.1 L429.4,53.6 L430.2,50.8 L431.0,48.5 L431.8,46.7 L432.6,45.3 L433.4,44.3 L434.2,43.6 L435.0,43.0 L435.8,42.8 L436.6,42.9 L437.4,43.3 L438.2,43.8 L439.0,44.5 L439.8,45.5 L440.6,46.6 L441.4,47.6 L442.2,48.5 L443.0,49.2 L443.8,49.9 L444.6,50.5 L445.4,51.1 L446.2,51.6 L447.0,52.1 L447.8,52.5 L448.6,52.9 L449.4,53.4 L450.2,53.9 L451.0,54.4 L451.8,55.1 L452.6,55.7 L453.4,56.3 L454.2,57.1 L455.0,58.1 L455.8,59.2 L456.6,60.3 L457.4,61.6 L458.2,63.3 L459.0,65.4 L459.8,68.0 L460.6,70.9 L461.4,74.2 L462.2,78.0 L463.0,82.0 L463.8,85.9 L464.6,89.9 L465.4,93.9 L466.2,97.8 L467.0,101.8 L467.8,105.8 L468.6,109.7 L469.4,113.7 L470.2,117.7 L471.0,121.6 L471.8,125.6 L472.6,129.3 L473.4,132.2 L474.2,134.6 L475.0,136.9 L475.8,139.1 L476.6,140.9 L477.4,142.4 L478.2,143.8 L479.0,144.9 L479.8,145.8 L480.6,146.6 L481.4,147.3 L482.2,147.9 L483.0,148.5 L483.8,149.0 L484.6,149.4 L485.4,149.8 L486.2,150.0 L487.0,150.3 L487.8,150.5 L488.6,150.7 L489.4,150.9 L490.2,151.1 L491.0,151.2 L491.8,151.4 L492.6,151.6 L493.4,151.7 L494.2,151.9 L495.0,152.0 L495.8,152.1 L496.6,152.3 L497.4,152.4 L498.2,152.5 L499.0,152.6 L499.8,152.8 L500.6,152.9 L501.4,153.0 L502.2,nan" fill="none" stroke="#6a6a6a" stroke-width="0.5" stroke-linejoin="round"/>
<path d="M329.4,160.7 L330.2,159.8 L331.0,158.8 L331.8,157.9 L332.6,157.0 L333.4,156.0 L334.2,155.1 L335.0,154.2 L335.8,153.3 L336.6,152.4 L337.4,151.6 L338.2,150.8 L339.0,150.2 L339.8,149.6 L340.6,149.1 L341.4,148.5 L342.2,148.1 L343.0,147.7 L343.8,147.4 L344.6,147.1 L345.4,147.0 L346.2,147.0 L347.0,147.0 L347.8,147.1 L348.6,147.2 L349.4,147.4 L350.2,147.6 L351.0,147.8 L351.8,148.0 L352.6,148.3 L353.4,148.6 L354.2,148.8 L355.0,149.0 L355.8,149.2 L356.6,149.4 L357.4,149.5 L358.2,149.7 L359.0,149.8 L359.8,150.0 L360.6,150.1 L361.4,150.2 L362.2,150.3 L363.0,150.4 L363.8,150.4 L364.6,150.5 L365.4,150.6 L366.2,150.6 L367.0,150.7 L367.8,150.7 L368.6,150.8 L369.4,150.8 L370.2,150.9 L371.0,150.9 L371.8,151.0 L372.6,151.0 L373.4,151.1 L374.2,151.1 L375.0,151.2 L375.8,151.2 L376.6,151.3 L377.4,151.3 L378.2,151.4 L379.0,151.4 L379.8,151.5 L380.6,151.5 L381.4,151.6 L382.2,151.7 L383.0,151.7 L383.8,151.8 L384.6,151.9 L385.4,151.9 L386.2,152.0 L387.0,152.1 L387.8,152.2 L388.6,152.2 L389.4,152.3 L390.2,152.4 L391.0,152.6 L391.8,152.8 L392.6,153.0 L393.4,153.3 L394.2,153.6 L395.0,154.0 L395.8,154.4 L396.6,155.0 L397.4,155.6 L398.2,156.3 L399.0,157.0 L399.8,157.8 L400.6,158.6 L401.4,159.5 L402.2,160.4 L403.0,161.3 L403.8,162.3 L404.6,163.3 L405.4,164.4 L406.2,165.7 L407.0,167.0 L407.8,167.8 L408.6,168.0 L409.4,167.8 L410.2,167.3 L411.0,166.5 L411.8,165.4 L412.6,164.2 L413.4,162.5 L414.2,160.4 L415.0,158.0 L415.8,155.7 L416.6,152.7 L417.4,147.3 L418.2,141.1 L419.0,134.8 L419.8,128.6 L420.6,122.3 L421.4,116.1 L422.2,109.8 L423.0,103.6 L423.8,97.4 L424.6,91.1 L425.4,84.9 L426.2,78.9 L427.0,72.9 L427.8,67.1 L428.6,62.1 L429.4,58.3 L430.2,55.6 L431.0,53.5 L431.8,51.9 L432.6,50.8 L433.4,50.1 L434.2,49.8 L435.0,50.1 L435.8,50.7 L436.6,51.6 L437.4,52.7 L438.2,53.8 L439.0,55.0 L439.8,56.1 L440.6,57.4 L441.4,58.6 L442.2,59.8 L443.0,61.0 L443.8,62.2 L444.6,63.3 L445.4,64.2 L446.2,64.7 L447.0,64.6 L447.8,64.0 L448.6,63.3 L449.4,62.5 L450.2,61.7 L451.0,61.0 L451.8,60.4 L452.6,60.0 L453.4,59.6 L454.2,59.3 L455.0,59.2 L455.8,59.6 L456.6,60.7 L457.4,62.2 L458.2,64.3 L459.0,66.7 L459.8,69.4 L460.6,72.4 L461.4,75.6 L462.2,79.1 L463.0,82.9 L463.8,87.2 L464.6,91.5 L465.4,95.9 L466.2,100.4 L467.0,104.9 L467.8,109.4 L468.6,114.0 L469.4,118.7 L470.2,123.4 L471.0,128.2 L471.8,132.8 L472.6,137.4 L473.4,141.7 L474.2,145.8 L475.0,149.6 L475.8,153.1 L476.6,155.8 L477.4,157.8 L478.2,159.4 L479.0,160.8 L479.8,161.8 L480.6,162.5 L481.4,163.0 L482.2,163.1 L483.0,162.9 L483.8,162.7 L484.6,162.4 L485.4,162.0 L486.2,161.6 L487.0,161.2 L487.8,160.8 L488.6,160.4 L489.4,160.1 L490.2,159.8 L491.0,159.5 L491.8,159.3 L492.6,159.2 L493.4,159.0 L494.2,158.9 L495.0,158.9 L495.8,158.9 L496.6,159.0 L497.4,159.1 L498.2,159.3 L499.0,159.5 L499.8,159.8 L500.6,160.1 L501.4,160.5 L501.7,160.6" fill="none" stroke="#6666ff" stroke-width="0.52" stroke-linejoin="round" stroke-dasharray="0.85 0.95"/>
<line x1="334.40" y1="34.40" x2="334.40" y2="97.10" stroke="#777" stroke-width="0.45" />
<line x1="334.40" y1="97.10" x2="424.00" y2="97.10" stroke="#777" stroke-width="0.45" />
<text x="329.70" y="36.90" font-size="3.0" text-anchor="middle" fill="#111" dy="1.07" stroke="#111" stroke-width="0.05">1.6</text>
<text x="329.70" y="44.00" font-size="3.0" text-anchor="middle" fill="#111" dy="1.07" stroke="#111" stroke-width="0.05">1.4</text>
<text x="329.70" y="51.10" font-size="3.0" text-anchor="middle" fill="#111" dy="1.07" stroke="#111" stroke-width="0.05">1.2</text>
<text x="329.70" y="58.20" font-size="3.0" text-anchor="middle" fill="#111" dy="1.07" stroke="#111" stroke-width="0.05">1.0</text>
<text x="329.70" y="65.30" font-size="3.0" text-anchor="middle" fill="#111" dy="1.07" stroke="#111" stroke-width="0.05">0.8</text>
<text x="329.70" y="72.40" font-size="3.0" text-anchor="middle" fill="#111" dy="1.07" stroke="#111" stroke-width="0.05">0.6</text>
<text x="329.70" y="79.50" font-size="3.0" text-anchor="middle" fill="#111" dy="1.07" stroke="#111" stroke-width="0.05">0.4</text>
<text x="329.70" y="86.60" font-size="3.0" text-anchor="middle" fill="#111" dy="1.07" stroke="#111" stroke-width="0.05">0.2</text>
<text x="329.70" y="93.70" font-size="3.0" text-anchor="middle" fill="#111" dy="1.07" stroke="#111" stroke-width="0.05">0.0</text>
<text x="336.50" y="100.75" font-size="3.0" text-anchor="middle" fill="#111" dy="1.07" stroke="#111" stroke-width="0.05">200</text>
<text x="347.40" y="100.75" font-size="3.0" text-anchor="middle" fill="#111" dy="1.07" stroke="#111" stroke-width="0.05">250</text>
<text x="358.30" y="100.75" font-size="3.0" text-anchor="middle" fill="#111" dy="1.07" stroke="#111" stroke-width="0.05">300</text>
<text x="369.20" y="100.75" font-size="3.0" text-anchor="middle" fill="#111" dy="1.07" stroke="#111" stroke-width="0.05">350</text>
<text x="380.10" y="100.75" font-size="3.0" text-anchor="middle" fill="#111" dy="1.07" stroke="#111" stroke-width="0.05">400</text>
<text x="391.00" y="100.75" font-size="3.0" text-anchor="middle" fill="#111" dy="1.07" stroke="#111" stroke-width="0.05">450</text>
<text x="401.90" y="100.75" font-size="3.0" text-anchor="middle" fill="#111" dy="1.07" stroke="#111" stroke-width="0.05">500</text>
<text x="412.70" y="100.75" font-size="3.0" text-anchor="middle" fill="#111" dy="1.07" stroke="#111" stroke-width="0.05">550</text>
<text x="423.50" y="100.75" font-size="3.0" text-anchor="middle" fill="#111" dy="1.07" stroke="#111" stroke-width="0.05">600</text>
<text x="376.50" y="104.90" font-size="3.65" text-anchor="middle" fill="#111" dy="1.31" stroke="#111" stroke-width="0.05">Wavelength (nm)</text>
<text x="322.60" y="65.50" font-size="3.1" text-anchor="middle" fill="#111" dy="1.11" transform="rotate(-90 322.60 65.50)" stroke="#111" stroke-width="0.05">Absorbance</text>
<text x="338.00" y="39.45" font-size="3.8" text-anchor="start" fill="#111" dy="1.36" stroke="#111" stroke-width="0.05">PNA</text>
<path d="M334.9,50.0 L335.7,66.7 L336.5,73.4 L337.3,76.3 L338.1,77.1 L338.9,76.2 L339.7,74.9 L340.5,73.5 L341.3,72.0 L342.1,70.4 L342.9,68.9 L343.7,67.3 L344.5,66.0 L345.3,65.2 L346.1,64.8 L346.9,64.6 L347.7,64.6 L348.5,64.9 L349.3,65.4 L350.1,66.4 L350.9,67.7 L351.7,69.2 L352.5,70.8 L353.3,72.5 L354.1,74.2 L354.9,76.1 L355.7,78.0 L356.5,80.0 L357.3,81.9 L358.1,83.7 L358.9,85.3 L359.7,86.8 L360.5,88.0 L361.3,89.1 L362.1,89.9 L362.9,90.6 L363.7,91.1 L364.5,91.3 L365.3,91.3 L366.1,91.4 L366.9,91.4 L367.7,91.5 L368.5,91.5 L369.3,91.5 L370.1,91.5 L370.9,91.5 L371.7,91.5 L372.5,91.5 L373.3,91.5 L374.1,91.5 L374.9,91.5 L375.7,91.5 L376.5,91.5 L377.3,91.5 L378.1,91.5 L378.9,91.5 L379.7,91.5 L380.5,91.5 L381.3,91.5 L382.1,91.4 L382.9,91.4 L383.7,91.3 L384.5,91.3 L385.3,91.0 L386.1,90.6 L386.9,89.9 L387.7,88.9 L388.5,87.7 L389.3,86.3 L390.1,84.7 L390.9,82.8 L391.7,80.8 L392.5,78.6 L393.3,76.3 L394.1,74.0 L394.9,71.6 L395.7,69.3 L396.5,67.1 L397.3,65.0 L398.1,62.9 L398.9,60.9 L399.7,59.1 L400.5,57.8 L401.3,57.3 L402.1,57.1 L402.9,57.1 L403.7,57.5 L404.5,58.5 L405.3,60.2 L406.1,62.1 L406.9,64.2 L407.7,66.3 L408.5,68.5 L409.3,70.8 L410.1,73.1 L410.9,75.4 L411.7,77.7 L412.5,80.0 L413.3,82.2 L414.1,84.3 L414.9,86.2 L415.7,87.9 L416.5,89.3 L417.3,90.3 L418.1,90.9 L418.9,91.3 L419.7,91.6 L420.5,91.8 L421.3,92.0 L422.1,92.0 L422.9,92.0 L423.7,91.9 L424.0,91.8" fill="none" stroke="#888" stroke-width="0.42" stroke-linejoin="round"/>
<line x1="38.20" y1="233.40" x2="38.20" y2="396.70" stroke="#444444" stroke-width="0.9" />
<line x1="240.70" y1="233.40" x2="240.70" y2="396.70" stroke="#444444" stroke-width="0.9" />
<line x1="38.20" y1="396.30" x2="240.70" y2="396.30" stroke="#444444" stroke-width="0.9" />
<line x1="35.20" y1="396.30" x2="38.20" y2="396.30" stroke="#444444" stroke-width="0.8" />
<text x="33.80" y="395.80" font-size="7.0" text-anchor="end" fill="#444" dy="2.51" >0.0</text>
<line x1="35.20" y1="373.10" x2="38.20" y2="373.10" stroke="#444444" stroke-width="0.8" />
<text x="33.80" y="372.60" font-size="7.0" text-anchor="end" fill="#444" dy="2.51" >0.2</text>
<line x1="35.20" y1="349.90" x2="38.20" y2="349.90" stroke="#444444" stroke-width="0.8" />
<text x="33.80" y="349.40" font-size="7.0" text-anchor="end" fill="#444" dy="2.51" >0.4</text>
<line x1="35.20" y1="326.70" x2="38.20" y2="326.70" stroke="#444444" stroke-width="0.8" />
<text x="33.80" y="326.20" font-size="7.0" text-anchor="end" fill="#444" dy="2.51" >0.6</text>
<line x1="35.20" y1="303.50" x2="38.20" y2="303.50" stroke="#444444" stroke-width="0.8" />
<text x="33.80" y="303.00" font-size="7.0" text-anchor="end" fill="#444" dy="2.51" >0.8</text>
<line x1="35.20" y1="280.30" x2="38.20" y2="280.30" stroke="#444444" stroke-width="0.8" />
<text x="33.80" y="279.80" font-size="7.0" text-anchor="end" fill="#444" dy="2.51" >1.0</text>
<line x1="35.20" y1="257.10" x2="38.20" y2="257.10" stroke="#444444" stroke-width="0.8" />
<text x="33.80" y="256.60" font-size="7.0" text-anchor="end" fill="#444" dy="2.51" >1.2</text>
<line x1="35.20" y1="233.90" x2="38.20" y2="233.90" stroke="#444444" stroke-width="0.8" />
<text x="33.80" y="233.40" font-size="7.0" text-anchor="end" fill="#444" dy="2.51" >1.4</text>
<line x1="36.60" y1="384.70" x2="38.20" y2="384.70" stroke="#444444" stroke-width="0.7" />
<line x1="36.60" y1="361.50" x2="38.20" y2="361.50" stroke="#444444" stroke-width="0.7" />
<line x1="36.60" y1="338.30" x2="38.20" y2="338.30" stroke="#444444" stroke-width="0.7" />
<line x1="36.60" y1="315.10" x2="38.20" y2="315.10" stroke="#444444" stroke-width="0.7" />
<line x1="36.60" y1="291.90" x2="38.20" y2="291.90" stroke="#444444" stroke-width="0.7" />
<line x1="36.60" y1="268.70" x2="38.20" y2="268.70" stroke="#444444" stroke-width="0.7" />
<line x1="36.60" y1="245.50" x2="38.20" y2="245.50" stroke="#444444" stroke-width="0.7" />
<line x1="240.70" y1="383.70" x2="243.70" y2="383.70" stroke="#444444" stroke-width="0.8" />
<text x="245.60" y="383.20" font-size="7.0" text-anchor="start" fill="#2a2a2a" dy="2.51" stroke="#2a2a2a" stroke-width="0.08">0.0</text>
<line x1="240.70" y1="358.77" x2="243.70" y2="358.77" stroke="#444444" stroke-width="0.8" />
<text x="245.60" y="358.27" font-size="7.0" text-anchor="start" fill="#2a2a2a" dy="2.51" stroke="#2a2a2a" stroke-width="0.08">0.2</text>
<line x1="240.70" y1="333.84" x2="243.70" y2="333.84" stroke="#444444" stroke-width="0.8" />
<text x="245.60" y="333.34" font-size="7.0" text-anchor="start" fill="#2a2a2a" dy="2.51" stroke="#2a2a2a" stroke-width="0.08">0.4</text>
<line x1="240.70" y1="308.91" x2="243.70" y2="308.91" stroke="#444444" stroke-width="0.8" />
<text x="245.60" y="308.41" font-size="7.0" text-anchor="start" fill="#2a2a2a" dy="2.51" stroke="#2a2a2a" stroke-width="0.08">0.6</text>
<line x1="240.70" y1="283.98" x2="243.70" y2="283.98" stroke="#444444" stroke-width="0.8" />
<text x="245.60" y="283.48" font-size="7.0" text-anchor="start" fill="#2a2a2a" dy="2.51" stroke="#2a2a2a" stroke-width="0.08">0.8</text>
<line x1="240.70" y1="259.05" x2="243.70" y2="259.05" stroke="#444444" stroke-width="0.8" />
<text x="245.60" y="258.55" font-size="7.0" text-anchor="start" fill="#2a2a2a" dy="2.51" stroke="#2a2a2a" stroke-width="0.08">1.0</text>
<line x1="240.70" y1="234.12" x2="243.70" y2="234.12" stroke="#444444" stroke-width="0.8" />
<text x="245.60" y="233.62" font-size="7.0" text-anchor="start" fill="#2a2a2a" dy="2.51" stroke="#2a2a2a" stroke-width="0.08">1.2</text>
<line x1="240.70" y1="396.16" x2="242.30" y2="396.16" stroke="#444444" stroke-width="0.7" />
<line x1="240.70" y1="371.24" x2="242.30" y2="371.24" stroke="#444444" stroke-width="0.7" />
<line x1="240.70" y1="346.31" x2="242.30" y2="346.31" stroke="#444444" stroke-width="0.7" />
<line x1="240.70" y1="321.38" x2="242.30" y2="321.38" stroke="#444444" stroke-width="0.7" />
<line x1="240.70" y1="296.44" x2="242.30" y2="296.44" stroke="#444444" stroke-width="0.7" />
<line x1="240.70" y1="271.51" x2="242.30" y2="271.51" stroke="#444444" stroke-width="0.7" />
<line x1="240.70" y1="246.58" x2="242.30" y2="246.58" stroke="#444444" stroke-width="0.7" />
<line x1="53.40" y1="396.30" x2="53.40" y2="399.30" stroke="#444444" stroke-width="0.8" />
<text x="53.40" y="404.95" font-size="7.0" text-anchor="middle" fill="#222" dy="2.51" stroke="#222" stroke-width="0.08">200</text>
<line x1="82.18" y1="396.30" x2="82.18" y2="399.30" stroke="#444444" stroke-width="0.8" />
<text x="82.18" y="404.95" font-size="7.0" text-anchor="middle" fill="#222" dy="2.51" stroke="#222" stroke-width="0.08">300</text>
<line x1="110.96" y1="396.30" x2="110.96" y2="399.30" stroke="#444444" stroke-width="0.8" />
<text x="110.96" y="404.95" font-size="7.0" text-anchor="middle" fill="#222" dy="2.51" stroke="#222" stroke-width="0.08">400</text>
<line x1="139.74" y1="396.30" x2="139.74" y2="399.30" stroke="#444444" stroke-width="0.8" />
<text x="139.74" y="404.95" font-size="7.0" text-anchor="middle" fill="#222" dy="2.51" stroke="#222" stroke-width="0.08">500</text>
<line x1="168.52" y1="396.30" x2="168.52" y2="399.30" stroke="#444444" stroke-width="0.8" />
<text x="168.52" y="404.95" font-size="7.0" text-anchor="middle" fill="#222" dy="2.51" stroke="#222" stroke-width="0.08">600</text>
<line x1="197.30" y1="396.30" x2="197.30" y2="399.30" stroke="#444444" stroke-width="0.8" />
<text x="197.30" y="404.95" font-size="7.0" text-anchor="middle" fill="#222" dy="2.51" stroke="#222" stroke-width="0.08">700</text>
<line x1="226.08" y1="396.30" x2="226.08" y2="399.30" stroke="#444444" stroke-width="0.8" />
<text x="226.08" y="404.95" font-size="7.0" text-anchor="middle" fill="#222" dy="2.51" stroke="#222" stroke-width="0.08">800</text>
<line x1="39.01" y1="396.30" x2="39.01" y2="397.90" stroke="#444444" stroke-width="0.7" />
<line x1="67.79" y1="396.30" x2="67.79" y2="397.90" stroke="#444444" stroke-width="0.7" />
<line x1="96.57" y1="396.30" x2="96.57" y2="397.90" stroke="#444444" stroke-width="0.7" />
<line x1="125.35" y1="396.30" x2="125.35" y2="397.90" stroke="#444444" stroke-width="0.7" />
<line x1="154.13" y1="396.30" x2="154.13" y2="397.90" stroke="#444444" stroke-width="0.7" />
<line x1="182.91" y1="396.30" x2="182.91" y2="397.90" stroke="#444444" stroke-width="0.7" />
<line x1="211.69" y1="396.30" x2="211.69" y2="397.90" stroke="#444444" stroke-width="0.7" />
<line x1="240.47" y1="396.30" x2="240.47" y2="397.90" stroke="#444444" stroke-width="0.7" />
<text transform="translate(139.00 417.80) scale(0.95 1)" font-size="8.85" text-anchor="middle" fill="#2a2a2a" dy="3.17" stroke="#222" stroke-width="0.15">Wavelength (nm)</text>
<text x="14.10" y="314.30" font-size="8.3" text-anchor="middle" fill="#2a2a2a" dy="2.97" transform="rotate(-90 14.10 314.30)" stroke="#222" stroke-width="0.15">Absorbance</text>
<text x="264.80" y="316.40" font-size="8.38" text-anchor="middle" fill="#2a2a2a" dy="3.00" transform="rotate(-90 264.80 316.40)" stroke="#222" stroke-width="0.15">Oscillator strength</text>
<text transform="translate(41.50 240.65) scale(1.045 1)" font-size="8.15" text-anchor="start" fill="#111" dy="2.92" stroke="#111" stroke-width="0.1">(c)</text>
<line x1="145.70" y1="240.40" x2="157.90" y2="240.40" stroke="#999" stroke-width="0.8" />
<line x1="145.70" y1="247.00" x2="157.90" y2="247.00" stroke="#7a7aff" stroke-width="0.7" stroke-dasharray="0.9 0.7"/>
<text transform="translate(159.70 240.40) scale(0.957 1)" font-size="5.590749999999999" text-anchor="start" fill="#2a2a2a" dy="2.00" stroke="#2a2a2a" stroke-width="0.1">Indigo-POPD (experimental)</text>
<text transform="translate(159.70 247.00) scale(0.957 1)" font-size="5.590749999999999" text-anchor="start" fill="#2a2a2a" dy="2.00" stroke="#2a2a2a" stroke-width="0.1">Indigo-POPD (theoretical)</text>
<path d="M53.3,386.3 L54.1,383.4 L54.9,380.6 L55.7,377.8 L56.5,375.2 L57.3,372.6 L58.1,370.0 L58.9,367.4 L59.7,364.9 L60.5,362.5 L61.3,360.4 L62.1,358.5 L62.9,356.8 L63.7,355.3 L64.5,354.2 L65.3,353.3 L66.1,352.7 L66.9,352.3 L67.7,352.1 L68.5,352.0 L69.3,352.1 L70.1,352.3 L70.9,352.6 L71.7,353.1 L72.5,353.7 L73.3,354.4 L74.1,355.2 L74.9,356.1 L75.7,357.2 L76.5,358.3 L77.3,359.5 L78.1,360.8 L78.9,362.2 L79.7,363.7 L80.5,365.3 L81.3,366.8 L82.1,368.1 L82.9,369.4 L83.7,370.5 L84.5,371.4 L85.3,372.3 L86.1,372.9 L86.9,373.3 L87.7,373.4 L88.5,373.3 L89.3,372.9 L90.1,372.4 L90.9,371.8 L91.7,370.8 L92.5,369.5 L93.3,367.6 L94.1,365.1 L94.9,362.4 L95.7,359.5 L96.5,356.5 L97.3,353.2 L98.1,349.3 L98.9,345.0 L99.7,340.5 L100.5,336.1 L101.3,331.6 L102.1,327.1 L102.9,322.6 L103.7,318.2 L104.5,313.9 L105.3,309.6 L106.1,305.5 L106.9,302.3 L107.7,299.9 L108.5,297.8 L109.3,296.1 L110.1,295.0 L110.9,294.4 L111.7,294.5 L112.5,295.2 L113.3,296.2 L114.1,297.8 L114.9,299.9 L115.7,302.6 L116.5,306.0 L117.3,309.9 L118.1,314.0 L118.9,318.2 L119.7,322.6 L120.5,327.1 L121.3,331.6 L122.1,336.0 L122.9,340.1 L123.7,343.8 L124.5,347.1 L125.3,350.2 L126.1,353.4 L126.9,356.4 L127.7,359.1 L128.5,361.3 L129.3,363.1 L130.1,364.7 L130.9,366.1 L131.7,367.2 L132.5,368.0 L133.3,368.8 L134.1,369.4 L134.9,369.9 L135.7,370.3 L136.5,370.7 L137.3,371.0 L138.1,371.4 L138.9,371.9 L139.7,372.4 L140.5,372.9 L141.3,373.4 L142.1,373.9 L142.9,374.5 L143.7,375.1 L144.5,375.7 L145.3,376.3 L146.1,377.1 L146.9,378.0 L147.7,378.7 L148.5,379.4 L149.3,380.0 L150.1,380.6 L150.9,381.1 L151.7,381.6 L152.5,382.1 L153.3,382.5 L154.1,382.9 L154.9,383.3 L155.7,383.6 L156.5,383.9 L157.3,384.1 L158.1,384.4 L158.9,384.6 L159.7,384.8 L160.5,384.9 L161.3,385.1 L162.1,385.2 L162.9,385.3 L163.7,385.4 L164.5,385.5 L165.3,385.5 L166.1,385.6 L166.9,385.6 L167.7,385.6 L168.5,385.6 L169.3,385.6 L170.1,385.5 L170.9,385.5 L171.7,385.5 L172.5,385.4 L173.3,385.4 L174.1,385.3 L174.9,385.3 L175.7,385.2 L176.5,385.1 L177.3,385.0 L178.1,384.9 L178.9,384.8 L179.7,384.6 L180.5,384.5 L181.3,384.3 L182.1,384.0 L182.9,383.8 L183.7,383.6 L184.5,383.4 L185.3,383.2 L186.1,383.1 L186.9,382.9 L187.7,382.8 L188.5,382.7 L189.3,382.6 L190.1,382.5 L190.9,382.4 L191.7,382.4 L192.5,382.3 L193.3,382.3 L194.1,382.3 L194.9,382.3 L195.7,382.3 L196.5,382.3 L197.3,382.4 L198.1,382.4 L198.9,382.5 L199.7,382.6 L200.5,382.6 L201.3,382.7 L202.1,382.7 L202.9,382.8 L203.7,382.8 L204.5,382.9 L205.3,382.9 L206.1,382.9 L206.9,383.0 L207.7,383.0 L208.5,383.0 L209.3,383.1 L210.1,383.1 L210.9,383.1 L211.7,383.1 L212.5,383.1 L213.3,383.1 L214.1,383.1 L214.9,383.1 L215.7,383.1 L216.5,383.0 L217.3,383.0 L218.1,383.0 L218.9,383.0 L219.7,382.9 L220.5,382.9 L221.3,382.9 L222.1,382.8 L222.9,382.8 L223.7,382.7 L224.5,382.7 L225.3,382.6 L225.6,382.6" fill="none" stroke="#6a6a6a" stroke-width="0.5" stroke-linejoin="round"/>
<path d="M53.3,375.4 L54.1,373.9 L54.9,372.4 L55.7,370.9 L56.5,369.5 L57.3,368.1 L58.1,366.7 L58.9,365.4 L59.7,364.2 L60.5,363.0 L61.3,361.9 L62.1,361.0 L62.9,360.1 L63.7,359.3 L64.5,358.6 L65.3,357.9 L66.1,357.4 L66.9,357.0 L67.7,356.7 L68.5,356.6 L69.3,356.7 L70.1,356.8 L70.9,357.2 L71.7,357.5 L72.5,358.0 L73.3,358.5 L74.1,359.1 L74.9,359.7 L75.7,360.4 L76.5,361.1 L77.3,361.8 L78.1,362.6 L78.9,363.4 L79.7,364.3 L80.5,365.1 L81.3,365.9 L82.1,366.6 L82.9,367.2 L83.7,367.6 L84.5,368.0 L85.3,368.3 L86.1,368.4 L86.9,368.4 L87.7,368.1 L88.5,367.8 L89.3,367.3 L90.1,366.8 L90.9,366.1 L91.7,365.2 L92.5,364.0 L93.3,362.3 L94.1,360.0 L94.9,357.3 L95.7,354.5 L96.5,351.5 L97.3,348.4 L98.1,345.1 L98.9,341.5 L99.7,337.6 L100.5,333.6 L101.3,329.6 L102.1,325.6 L102.9,321.9 L103.7,318.5 L104.5,315.5 L105.3,312.9 L106.1,310.8 L106.9,309.0 L107.7,307.5 L108.5,306.1 L109.3,305.0 L110.1,304.4 L110.9,304.4 L111.7,304.8 L112.5,305.5 L113.3,306.4 L114.1,307.7 L114.9,309.7 L115.7,312.2 L116.5,315.0 L117.3,318.0 L118.1,321.1 L118.9,324.5 L119.7,328.0 L120.5,331.7 L121.3,335.4 L122.1,339.0 L122.9,342.5 L123.7,345.7 L124.5,348.7 L125.3,351.8 L126.1,354.7 L126.9,357.6 L127.7,360.2 L128.5,362.2 L129.3,363.7 L130.1,365.0 L130.9,366.2 L131.7,367.2 L132.5,368.1 L133.3,368.9 L134.1,369.6 L134.9,370.2 L135.7,370.7 L136.5,371.0 L137.3,371.3 L138.1,371.6 L138.9,372.1 L139.7,372.6 L140.5,373.2 L141.3,373.8 L142.1,374.5 L142.9,375.3 L143.7,376.1 L144.5,376.9 L145.3,377.6 L146.1,378.2 L146.9,378.8 L147.7,379.3 L148.5,379.7 L149.3,380.2 L150.1,380.5 L150.9,380.9 L151.7,381.2 L152.5,381.5 L153.3,381.7 L154.1,382.0 L154.9,382.1 L155.7,382.3 L156.5,382.3 L157.3,382.4 L158.1,382.5 L158.9,382.5 L159.7,382.6 L160.5,382.6 L161.3,382.6 L162.1,382.6 L162.9,382.7 L163.7,382.7 L164.5,382.7 L165.3,382.7 L166.1,382.8 L166.9,382.8 L167.7,382.8 L168.5,382.8 L169.3,382.8 L170.1,382.9 L170.9,382.9 L171.7,382.9 L172.5,382.9 L173.3,383.0 L174.1,383.0 L174.9,383.0 L175.7,383.0 L176.5,383.1 L177.3,383.1 L178.1,383.1 L178.9,383.1 L179.7,383.1 L180.5,383.1 L181.3,383.1 L182.1,383.1 L182.9,383.0 L183.7,383.0 L184.5,382.9 L185.3,382.9 L186.1,382.8 L186.9,382.8 L187.7,382.7 L188.5,382.7 L189.3,382.6 L190.1,382.6 L190.9,382.5 L191.7,382.5 L192.5,382.4 L193.3,382.4 L194.1,382.4 L194.9,382.3 L195.7,382.3 L196.5,382.3 L197.3,382.3 L198.1,382.3 L198.9,382.4 L199.7,382.4 L200.5,382.5 L201.3,382.6 L202.1,382.7 L202.9,382.7 L203.7,382.8 L204.5,382.8 L205.3,382.9 L206.1,382.9 L206.9,382.9 L207.7,383.0 L208.5,383.0 L209.3,383.0 L210.1,383.1 L210.9,383.1 L211.7,383.1 L212.5,383.1 L213.3,383.1 L214.1,383.1 L214.9,383.0 L215.7,383.0 L216.5,382.9 L217.3,382.9 L218.1,382.8 L218.9,382.7 L219.7,382.7 L220.5,382.6 L221.3,382.5 L222.1,382.5 L222.9,382.4 L223.7,382.3 L224.5,382.2 L225.3,382.1 L225.6,382.1" fill="none" stroke="#6666ff" stroke-width="0.52" stroke-linejoin="round" stroke-dasharray="0.85 0.95"/>
<line x1="136.70" y1="262.50" x2="136.70" y2="336.10" stroke="#777" stroke-width="0.45" />
<line x1="136.70" y1="336.10" x2="231.90" y2="336.10" stroke="#777" stroke-width="0.45" />
<text x="132.20" y="268.90" font-size="3.3" text-anchor="middle" fill="#111" dy="1.18" stroke="#111" stroke-width="0.07">2.5</text>
<line x1="136.00" y1="268.90" x2="136.70" y2="268.90" stroke="#777" stroke-width="0.3" />
<text x="132.20" y="282.40" font-size="3.3" text-anchor="middle" fill="#111" dy="1.18" stroke="#111" stroke-width="0.07">2.0</text>
<line x1="136.00" y1="282.40" x2="136.70" y2="282.40" stroke="#777" stroke-width="0.3" />
<text x="132.20" y="295.90" font-size="3.3" text-anchor="middle" fill="#111" dy="1.18" stroke="#111" stroke-width="0.07">1.5</text>
<line x1="136.00" y1="295.90" x2="136.70" y2="295.90" stroke="#777" stroke-width="0.3" />
<text x="132.20" y="309.30" font-size="3.3" text-anchor="middle" fill="#111" dy="1.18" stroke="#111" stroke-width="0.07">1.0</text>
<line x1="136.00" y1="309.30" x2="136.70" y2="309.30" stroke="#777" stroke-width="0.3" />
<text x="132.20" y="322.60" font-size="3.3" text-anchor="middle" fill="#111" dy="1.18" stroke="#111" stroke-width="0.07">0.5</text>
<line x1="136.00" y1="322.60" x2="136.70" y2="322.60" stroke="#777" stroke-width="0.3" />
<text x="132.20" y="336.10" font-size="3.3" text-anchor="middle" fill="#111" dy="1.18" stroke="#111" stroke-width="0.07">0.0</text>
<line x1="136.00" y1="336.10" x2="136.70" y2="336.10" stroke="#777" stroke-width="0.3" />
<text x="136.70" y="340.10" font-size="3.3" text-anchor="middle" fill="#111" dy="1.18" stroke="#111" stroke-width="0.07">200</text>
<line x1="136.70" y1="336.10" x2="136.70" y2="336.80" stroke="#777" stroke-width="0.3" />
<text x="147.20" y="340.10" font-size="3.3" text-anchor="middle" fill="#111" dy="1.18" stroke="#111" stroke-width="0.07">250</text>
<line x1="147.20" y1="336.10" x2="147.20" y2="336.80" stroke="#777" stroke-width="0.3" />
<text x="157.60" y="340.10" font-size="3.3" text-anchor="middle" fill="#111" dy="1.18" stroke="#111" stroke-width="0.07">300</text>
<line x1="157.60" y1="336.10" x2="157.60" y2="336.80" stroke="#777" stroke-width="0.3" />
<text x="168.10" y="340.10" font-size="3.3" text-anchor="middle" fill="#111" dy="1.18" stroke="#111" stroke-width="0.07">350</text>
<line x1="168.10" y1="336.10" x2="168.10" y2="336.80" stroke="#777" stroke-width="0.3" />
<text x="178.60" y="340.10" font-size="3.3" text-anchor="middle" fill="#111" dy="1.18" stroke="#111" stroke-width="0.07">400</text>
<line x1="178.60" y1="336.10" x2="178.60" y2="336.80" stroke="#777" stroke-width="0.3" />
<text x="189.00" y="340.10" font-size="3.3" text-anchor="middle" fill="#111" dy="1.18" stroke="#111" stroke-width="0.07">450</text>
<line x1="189.00" y1="336.10" x2="189.00" y2="336.80" stroke="#777" stroke-width="0.3" />
<text x="199.60" y="340.10" font-size="3.3" text-anchor="middle" fill="#111" dy="1.18" stroke="#111" stroke-width="0.07">500</text>
<line x1="199.60" y1="336.10" x2="199.60" y2="336.80" stroke="#777" stroke-width="0.3" />
<text x="210.10" y="340.10" font-size="3.3" text-anchor="middle" fill="#111" dy="1.18" stroke="#111" stroke-width="0.07">550</text>
<line x1="210.10" y1="336.10" x2="210.10" y2="336.80" stroke="#777" stroke-width="0.3" />
<text x="220.50" y="340.10" font-size="3.3" text-anchor="middle" fill="#111" dy="1.18" stroke="#111" stroke-width="0.07">600</text>
<line x1="220.50" y1="336.10" x2="220.50" y2="336.80" stroke="#777" stroke-width="0.3" />
<text x="230.90" y="340.10" font-size="3.3" text-anchor="middle" fill="#111" dy="1.18" stroke="#111" stroke-width="0.07">650</text>
<line x1="230.90" y1="336.10" x2="230.90" y2="336.80" stroke="#777" stroke-width="0.3" />
<text x="184.30" y="344.80" font-size="3.9" text-anchor="middle" fill="#111" dy="1.40" stroke="#111" stroke-width="0.07">Wavelength (nm)</text>
<text x="124.80" y="296.80" font-size="3.6" text-anchor="middle" fill="#111" dy="1.29" transform="rotate(-90 124.80 296.80)" stroke="#111" stroke-width="0.07">Absorbance</text>
<text x="140.70" y="267.05" font-size="3.95" text-anchor="start" fill="#111" dy="1.41" stroke="#111" stroke-width="0.07">POPD</text>
<path d="M136.3,268.7 L137.1,270.9 L137.9,273.1 L138.7,275.3 L139.5,277.6 L140.3,279.8 L141.1,282.1 L141.9,284.4 L142.7,286.7 L143.5,289.0 L144.3,291.3 L145.1,293.6 L145.9,296.0 L146.7,298.3 L147.5,300.6 L148.3,303.0 L149.1,305.4 L149.9,307.7 L150.7,309.9 L151.5,312.0 L152.3,313.8 L153.1,315.5 L153.9,317.0 L154.7,318.3 L155.5,319.3 L156.3,320.1 L157.1,320.5 L157.9,320.5 L158.7,320.0 L159.5,319.0 L160.3,317.6 L161.1,316.0 L161.9,314.3 L162.7,312.5 L163.5,310.6 L164.3,308.6 L165.1,306.8 L165.9,305.1 L166.7,303.8 L167.5,303.1 L168.3,303.0 L169.1,303.4 L169.9,304.4 L170.7,305.8 L171.5,307.7 L172.3,309.8 L173.1,312.0 L173.9,314.3 L174.7,316.7 L175.5,319.0 L176.3,321.2 L177.1,323.4 L177.9,325.5 L178.7,327.5 L179.5,329.2 L180.3,330.6 L181.1,331.6 L181.9,332.5 L182.7,333.2 L183.5,333.8 L184.3,334.2 L185.1,334.6 L185.9,335.0 L186.7,335.3 L187.5,335.5 L188.3,335.8 L189.1,335.9 L189.9,335.9 L190.7,335.9 L191.5,335.9 L192.3,335.9 L193.1,335.9 L193.9,335.9 L194.7,335.9 L195.5,335.8 L196.3,335.8 L197.1,335.8 L197.9,335.8 L198.7,335.8 L199.5,335.8 L200.3,335.8 L201.1,335.8 L201.9,335.8 L202.7,335.8 L203.5,335.8 L204.3,335.8 L205.1,335.8 L205.9,335.7 L206.7,335.7 L207.5,335.7 L208.3,335.7 L209.1,335.7 L209.9,335.7 L210.7,335.7 L211.5,335.7 L212.3,335.7 L213.1,335.7 L213.9,335.7 L214.7,335.7 L215.5,335.6 L216.3,335.6 L217.1,335.6 L217.9,335.6 L218.7,335.6 L219.5,335.6 L220.3,335.6 L220.4,335.6" fill="none" stroke="#888" stroke-width="0.42" stroke-linejoin="round"/>
<line x1="316.30" y1="227.80" x2="316.30" y2="392.00" stroke="#8a8a8a" stroke-width="1.3" />
<line x1="518.10" y1="227.80" x2="518.10" y2="392.00" stroke="#707070" stroke-width="1.1" />
<line x1="315.70" y1="391.60" x2="518.70" y2="391.60" stroke="#222" stroke-width="0.95" />
<text x="310.80" y="377.30" font-size="7.0" text-anchor="end" fill="#444" dy="2.51" >0.0</text>
<text x="310.80" y="350.25" font-size="7.0" text-anchor="end" fill="#444" dy="2.51" >0.2</text>
<text x="310.80" y="323.20" font-size="7.0" text-anchor="end" fill="#444" dy="2.51" >0.4</text>
<text x="310.80" y="296.15" font-size="7.0" text-anchor="end" fill="#444" dy="2.51" >0.6</text>
<text x="310.80" y="269.10" font-size="7.0" text-anchor="end" fill="#444" dy="2.51" >0.8</text>
<text x="310.80" y="242.05" font-size="7.0" text-anchor="end" fill="#444" dy="2.51" >1.0</text>
<text x="523.00" y="381.10" font-size="7.0" text-anchor="start" fill="#2a2a2a" dy="2.51" stroke="#2a2a2a" stroke-width="0.08">0.0</text>
<text x="523.00" y="362.00" font-size="7.0" text-anchor="start" fill="#2a2a2a" dy="2.51" stroke="#2a2a2a" stroke-width="0.08">0.1</text>
<text x="523.00" y="342.90" font-size="7.0" text-anchor="start" fill="#2a2a2a" dy="2.51" stroke="#2a2a2a" stroke-width="0.08">0.2</text>
<text x="523.00" y="323.80" font-size="7.0" text-anchor="start" fill="#2a2a2a" dy="2.51" stroke="#2a2a2a" stroke-width="0.08">0.3</text>
<text x="523.00" y="304.70" font-size="7.0" text-anchor="start" fill="#2a2a2a" dy="2.51" stroke="#2a2a2a" stroke-width="0.08">0.4</text>
<text x="523.00" y="285.60" font-size="7.0" text-anchor="start" fill="#2a2a2a" dy="2.51" stroke="#2a2a2a" stroke-width="0.08">0.5</text>
<text x="523.00" y="266.50" font-size="7.0" text-anchor="start" fill="#2a2a2a" dy="2.51" stroke="#2a2a2a" stroke-width="0.08">0.6</text>
<text x="523.00" y="247.40" font-size="7.0" text-anchor="start" fill="#2a2a2a" dy="2.51" stroke="#2a2a2a" stroke-width="0.08">0.7</text>
<text x="523.00" y="228.30" font-size="7.0" text-anchor="start" fill="#2a2a2a" dy="2.51" stroke="#2a2a2a" stroke-width="0.08">0.8</text>
<line x1="330.50" y1="391.60" x2="330.50" y2="394.20" stroke="#444444" stroke-width="0.8" />
<text x="330.50" y="399.45" font-size="7.0" text-anchor="middle" fill="#222" dy="2.51" stroke="#222" stroke-width="0.08">200</text>
<line x1="359.27" y1="391.60" x2="359.27" y2="394.20" stroke="#444444" stroke-width="0.8" />
<text x="359.27" y="399.45" font-size="7.0" text-anchor="middle" fill="#222" dy="2.51" stroke="#222" stroke-width="0.08">300</text>
<line x1="388.04" y1="391.60" x2="388.04" y2="394.20" stroke="#444444" stroke-width="0.8" />
<text x="388.04" y="399.45" font-size="7.0" text-anchor="middle" fill="#222" dy="2.51" stroke="#222" stroke-width="0.08">400</text>
<line x1="416.81" y1="391.60" x2="416.81" y2="394.20" stroke="#444444" stroke-width="0.8" />
<text x="416.81" y="399.45" font-size="7.0" text-anchor="middle" fill="#222" dy="2.51" stroke="#222" stroke-width="0.08">500</text>
<line x1="445.58" y1="391.60" x2="445.58" y2="394.20" stroke="#444444" stroke-width="0.8" />
<text x="445.58" y="399.45" font-size="7.0" text-anchor="middle" fill="#222" dy="2.51" stroke="#222" stroke-width="0.08">600</text>
<line x1="474.35" y1="391.60" x2="474.35" y2="394.20" stroke="#444444" stroke-width="0.8" />
<text x="474.35" y="399.45" font-size="7.0" text-anchor="middle" fill="#222" dy="2.51" stroke="#222" stroke-width="0.08">700</text>
<line x1="503.12" y1="391.60" x2="503.12" y2="394.20" stroke="#444444" stroke-width="0.8" />
<text x="503.12" y="399.45" font-size="7.0" text-anchor="middle" fill="#222" dy="2.51" stroke="#222" stroke-width="0.08">800</text>
<line x1="344.88" y1="391.60" x2="344.88" y2="393.10" stroke="#444444" stroke-width="0.7" />
<line x1="373.65" y1="391.60" x2="373.65" y2="393.10" stroke="#444444" stroke-width="0.7" />
<line x1="402.43" y1="391.60" x2="402.43" y2="393.10" stroke="#444444" stroke-width="0.7" />
<line x1="431.19" y1="391.60" x2="431.19" y2="393.10" stroke="#444444" stroke-width="0.7" />
<line x1="459.97" y1="391.60" x2="459.97" y2="393.10" stroke="#444444" stroke-width="0.7" />
<line x1="488.74" y1="391.60" x2="488.74" y2="393.10" stroke="#444444" stroke-width="0.7" />
<line x1="517.50" y1="391.60" x2="517.50" y2="393.10" stroke="#444444" stroke-width="0.7" />
<text transform="translate(416.00 409.30) scale(0.95 1)" font-size="8.85" text-anchor="middle" fill="#2a2a2a" dy="3.17" stroke="#222" stroke-width="0.15">Wavelength (nm)</text>
<text x="294.10" y="309.50" font-size="8.38" text-anchor="middle" fill="#2a2a2a" dy="3.00" transform="rotate(-90 294.10 309.50)" stroke="#222" stroke-width="0.15">Absorbance</text>
<text x="540.30" y="311.80" font-size="8.4" text-anchor="middle" fill="#2a2a2a" dy="3.01" transform="rotate(-90 540.30 311.80)" stroke="#222" stroke-width="0.15">Oscillator Strength</text>
<text transform="translate(322.80 234.85) scale(1.045 1)" font-size="8.15" text-anchor="start" fill="#111" dy="2.92" stroke="#111" stroke-width="0.1">(d)</text>
<line x1="434.70" y1="238.40" x2="445.60" y2="238.40" stroke="#999" stroke-width="0.8" />
<line x1="434.70" y1="245.00" x2="445.60" y2="245.00" stroke="#7a7aff" stroke-width="0.7" stroke-dasharray="0.9 0.7"/>
<text transform="translate(448.20 238.40) scale(0.957 1)" font-size="5.590749999999999" text-anchor="start" fill="#2a2a2a" dy="2.00" stroke="#2a2a2a" stroke-width="0.1">Indigo-PPy (experimental)</text>
<text transform="translate(448.20 245.00) scale(0.957 1)" font-size="5.590749999999999" text-anchor="start" fill="#2a2a2a" dy="2.00" stroke="#2a2a2a" stroke-width="0.1">Indigo-PPy (theoretical)</text>
<path d="M330.5,374.7 L331.3,374.1 L332.1,373.5 L332.9,373.0 L333.7,372.7 L334.5,372.3 L335.3,372.0 L336.1,371.7 L336.9,371.4 L337.7,371.1 L338.5,370.8 L339.3,370.5 L340.1,370.3 L340.9,370.2 L341.7,370.1 L342.5,370.1 L343.3,370.1 L344.1,370.2 L344.9,370.3 L345.7,370.4 L346.5,370.6 L347.3,370.8 L348.1,371.0 L348.9,371.1 L349.7,371.3 L350.5,371.5 L351.3,371.7 L352.1,371.9 L352.9,372.1 L353.7,372.3 L354.5,372.5 L355.3,372.7 L356.1,372.8 L356.9,372.9 L357.7,373.0 L358.5,373.0 L359.3,372.8 L360.1,372.7 L360.9,372.5 L361.7,372.2 L362.5,372.0 L363.3,371.7 L364.1,371.4 L364.9,371.1 L365.7,370.9 L366.5,370.6 L367.3,370.3 L368.1,370.0 L368.9,369.8 L369.7,369.5 L370.5,369.2 L371.3,369.0 L372.1,368.8 L372.9,368.6 L373.7,368.5 L374.5,368.4 L375.3,368.4 L376.1,368.3 L376.9,368.3 L377.7,368.3 L378.5,368.2 L379.3,368.3 L380.1,368.3 L380.9,368.4 L381.7,368.5 L382.5,368.6 L383.3,368.7 L384.1,368.9 L384.9,369.0 L385.7,369.1 L386.5,369.2 L387.3,369.4 L388.1,369.5 L388.9,369.6 L389.7,369.7 L390.5,369.8 L391.3,369.8 L392.1,369.8 L392.9,369.6 L393.7,369.2 L394.5,368.7 L395.3,367.9 L396.1,367.0 L396.9,365.7 L397.7,364.1 L398.5,362.1 L399.3,359.8 L400.1,357.0 L400.9,354.1 L401.7,351.0 L402.5,347.5 L403.3,343.7 L404.1,339.7 L404.9,335.7 L405.7,331.7 L406.5,327.7 L407.3,323.7 L408.1,319.7 L408.9,315.6 L409.7,311.6 L410.5,307.6 L411.3,303.9 L412.1,300.9 L412.9,298.2 L413.7,295.7 L414.5,293.6 L415.3,291.9 L416.1,290.6 L416.9,290.0 L417.7,290.2 L418.5,291.0 L419.3,292.5 L420.1,294.7 L420.9,297.5 L421.7,301.0 L422.5,305.0 L423.3,309.2 L424.1,313.5 L424.9,318.0 L425.7,322.5 L426.5,326.9 L427.3,331.3 L428.1,335.6 L428.9,339.8 L429.7,343.9 L430.5,347.6 L431.3,351.0 L432.1,353.9 L432.9,356.7 L433.7,359.4 L434.5,361.9 L435.3,364.1 L436.1,365.8 L436.9,367.2 L437.7,368.4 L438.5,369.3 L439.3,370.0 L440.1,370.6 L440.9,371.0 L441.7,371.3 L442.5,371.6 L443.3,371.7 L444.1,371.9 L444.9,372.0 L445.7,372.1 L446.5,372.1 L447.3,372.1 L448.1,372.1 L448.9,372.1 L449.7,372.1 L450.5,372.0 L451.3,372.0 L452.1,372.0 L452.9,372.0 L453.7,371.9 L454.5,371.9 L455.3,371.9 L456.1,371.8 L456.9,371.8 L457.7,371.8 L458.5,371.8 L459.3,371.7 L460.1,371.7 L460.9,371.7 L461.7,371.7 L462.5,371.7 L463.3,371.7 L464.1,371.7 L464.9,371.6 L465.7,371.6 L466.5,371.6 L467.3,371.6 L468.1,371.6 L468.9,371.6 L469.7,371.6 L470.5,371.6 L471.3,371.6 L472.1,371.6 L472.9,371.6 L473.7,371.6 L474.5,371.6 L475.3,371.6 L476.1,371.6 L476.9,371.6 L477.7,371.6 L478.5,371.6 L479.3,371.6 L480.1,371.6 L480.9,371.6 L481.7,371.6 L482.5,371.6 L483.3,371.6 L484.1,371.6 L484.9,371.6 L485.7,371.6 L486.5,371.6 L487.3,371.6 L488.1,371.6 L488.9,371.6 L489.7,371.6 L490.5,371.6 L491.3,371.6 L492.1,371.6 L492.9,371.6 L493.7,371.6 L494.5,371.6 L495.3,371.6 L496.1,371.6 L496.9,371.7 L497.7,371.7 L498.5,371.7 L499.3,371.7 L500.1,371.7 L500.9,371.7 L501.7,371.7 L502.5,371.7 L503.1,371.7" fill="none" stroke="#6a6a6a" stroke-width="0.5" stroke-linejoin="round"/>
<path d="M330.5,378.5 L331.3,377.9 L332.1,377.3 L332.9,376.8 L333.7,376.4 L334.5,376.0 L335.3,375.6 L336.1,375.2 L336.9,374.9 L337.7,374.5 L338.5,374.2 L339.3,373.9 L340.1,373.7 L340.9,373.5 L341.7,373.4 L342.5,373.3 L343.3,373.4 L344.1,373.5 L344.9,373.6 L345.7,373.7 L346.5,374.0 L347.3,374.2 L348.1,374.5 L348.9,374.7 L349.7,375.0 L350.5,375.2 L351.3,375.5 L352.1,375.8 L352.9,376.1 L353.7,376.3 L354.5,376.6 L355.3,376.9 L356.1,377.1 L356.9,377.3 L357.7,377.4 L358.5,377.4 L359.3,377.2 L360.1,377.0 L360.9,376.7 L361.7,376.5 L362.5,376.2 L363.3,375.9 L364.1,375.6 L364.9,375.3 L365.7,375.0 L366.5,374.7 L367.3,374.4 L368.1,374.1 L368.9,373.8 L369.7,373.6 L370.5,373.3 L371.3,373.0 L372.1,372.8 L372.9,372.6 L373.7,372.4 L374.5,372.3 L375.3,372.3 L376.1,372.2 L376.9,372.2 L377.7,372.2 L378.5,372.2 L379.3,372.2 L380.1,372.3 L380.9,372.4 L381.7,372.5 L382.5,372.6 L383.3,372.7 L384.1,372.8 L384.9,373.0 L385.7,373.2 L386.5,373.4 L387.3,373.6 L388.1,373.8 L388.9,374.0 L389.7,374.1 L390.5,374.2 L391.3,374.3 L392.1,374.3 L392.9,374.2 L393.7,374.0 L394.5,373.7 L395.3,373.3 L396.1,372.6 L396.9,371.9 L397.7,370.9 L398.5,369.5 L399.3,367.7 L400.1,365.5 L400.9,363.3 L401.7,360.9 L402.5,358.5 L403.3,356.0 L404.1,353.5 L404.9,350.8 L405.7,347.9 L406.5,345.0 L407.3,342.1 L408.1,339.6 L408.9,337.2 L409.7,335.0 L410.5,332.9 L411.3,331.0 L412.1,329.2 L412.9,327.7 L413.7,326.5 L414.5,325.5 L415.3,324.6 L416.1,324.1 L416.9,324.0 L417.7,324.2 L418.5,324.7 L419.3,325.6 L420.1,327.0 L420.9,329.2 L421.7,331.8 L422.5,334.6 L423.3,337.6 L424.1,340.6 L424.9,343.8 L425.7,347.1 L426.5,350.3 L427.3,353.5 L428.1,356.6 L428.9,359.5 L429.7,362.3 L430.5,365.0 L431.3,367.3 L432.1,369.2 L432.9,370.8 L433.7,372.2 L434.5,373.5 L435.3,374.5 L436.1,375.2 L436.9,375.7 L437.7,376.1 L438.5,376.4 L439.3,376.6 L440.1,376.8 L440.9,376.9 L441.7,377.0 L442.5,377.1 L443.3,377.1 L444.1,377.2 L444.9,377.2 L445.7,377.3 L446.5,377.3 L447.3,377.3 L448.1,377.3 L448.9,377.3 L449.7,377.2 L450.5,377.2 L451.3,377.2 L452.1,377.1 L452.9,377.1 L453.7,377.0 L454.5,376.9 L455.3,376.9 L456.1,376.8 L456.9,376.8 L457.7,376.7 L458.5,376.6 L459.3,376.6 L460.1,376.5 L460.9,376.5 L461.7,376.5 L462.5,376.4 L463.3,376.4 L464.1,376.3 L464.9,376.3 L465.7,376.2 L466.5,376.2 L467.3,376.1 L468.1,376.1 L468.9,376.1 L469.7,376.0 L470.5,376.0 L471.3,376.0 L472.1,376.0 L472.9,376.0 L473.7,376.0 L474.5,376.0 L475.3,376.0 L476.1,376.1 L476.9,376.1 L477.7,376.1 L478.5,376.2 L479.3,376.2 L480.1,376.2 L480.9,376.3 L481.7,376.3 L482.5,376.3 L483.3,376.4 L484.1,376.4 L484.9,376.4 L485.7,376.5 L486.5,376.5 L487.3,376.5 L488.1,376.6 L488.9,376.6 L489.7,376.7 L490.5,376.7 L491.3,376.7 L492.1,376.8 L492.9,376.8 L493.7,376.8 L494.5,376.9 L495.3,376.9 L496.1,377.0 L496.9,377.0 L497.7,377.0 L498.5,377.1 L499.3,377.1 L500.1,377.1 L500.9,377.2 L501.7,377.2 L502.5,377.3 L503.1,377.3" fill="none" stroke="#6666ff" stroke-width="0.52" stroke-linejoin="round" stroke-dasharray="0.85 0.95"/>
<line x1="330.50" y1="243.50" x2="330.50" y2="304.40" stroke="#777" stroke-width="0.45" />
<line x1="330.50" y1="304.40" x2="410.50" y2="304.40" stroke="#777" stroke-width="0.45" />
<text x="327.70" y="246.70" font-size="2.2" text-anchor="middle" fill="#111" dy="0.79" stroke="#111" stroke-width="0.06">1.6</text>
<line x1="329.80" y1="246.70" x2="330.50" y2="246.70" stroke="#777" stroke-width="0.3" />
<text x="327.70" y="254.00" font-size="2.2" text-anchor="middle" fill="#111" dy="0.79" stroke="#111" stroke-width="0.06">1.4</text>
<line x1="329.80" y1="254.00" x2="330.50" y2="254.00" stroke="#777" stroke-width="0.3" />
<text x="327.70" y="260.70" font-size="2.2" text-anchor="middle" fill="#111" dy="0.79" stroke="#111" stroke-width="0.06">1.2</text>
<line x1="329.80" y1="260.70" x2="330.50" y2="260.70" stroke="#777" stroke-width="0.3" />
<text x="327.70" y="267.50" font-size="2.2" text-anchor="middle" fill="#111" dy="0.79" stroke="#111" stroke-width="0.06">1.0</text>
<line x1="329.80" y1="267.50" x2="330.50" y2="267.50" stroke="#777" stroke-width="0.3" />
<text x="327.70" y="274.20" font-size="2.2" text-anchor="middle" fill="#111" dy="0.79" stroke="#111" stroke-width="0.06">0.8</text>
<line x1="329.80" y1="274.20" x2="330.50" y2="274.20" stroke="#777" stroke-width="0.3" />
<text x="327.70" y="280.90" font-size="2.2" text-anchor="middle" fill="#111" dy="0.79" stroke="#111" stroke-width="0.06">0.6</text>
<line x1="329.80" y1="280.90" x2="330.50" y2="280.90" stroke="#777" stroke-width="0.3" />
<text x="327.70" y="287.50" font-size="2.2" text-anchor="middle" fill="#111" dy="0.79" stroke="#111" stroke-width="0.06">0.4</text>
<line x1="329.80" y1="287.50" x2="330.50" y2="287.50" stroke="#777" stroke-width="0.3" />
<text x="327.70" y="294.30" font-size="2.2" text-anchor="middle" fill="#111" dy="0.79" stroke="#111" stroke-width="0.06">0.2</text>
<line x1="329.80" y1="294.30" x2="330.50" y2="294.30" stroke="#777" stroke-width="0.3" />
<text x="327.70" y="301.10" font-size="2.2" text-anchor="middle" fill="#111" dy="0.79" stroke="#111" stroke-width="0.06">0.0</text>
<line x1="329.80" y1="301.10" x2="330.50" y2="301.10" stroke="#777" stroke-width="0.3" />
<text x="330.20" y="307.50" font-size="2.5" text-anchor="middle" fill="#111" dy="0.90" stroke="#111" stroke-width="0.06">200</text>
<line x1="330.20" y1="304.40" x2="330.20" y2="305.10" stroke="#777" stroke-width="0.3" />
<text x="342.50" y="307.50" font-size="2.5" text-anchor="middle" fill="#111" dy="0.90" stroke="#111" stroke-width="0.06">250</text>
<line x1="342.50" y1="304.40" x2="342.50" y2="305.10" stroke="#777" stroke-width="0.3" />
<text x="354.90" y="307.50" font-size="2.5" text-anchor="middle" fill="#111" dy="0.90" stroke="#111" stroke-width="0.06">300</text>
<line x1="354.90" y1="304.40" x2="354.90" y2="305.10" stroke="#777" stroke-width="0.3" />
<text x="367.30" y="307.50" font-size="2.5" text-anchor="middle" fill="#111" dy="0.90" stroke="#111" stroke-width="0.06">350</text>
<line x1="367.30" y1="304.40" x2="367.30" y2="305.10" stroke="#777" stroke-width="0.3" />
<text x="379.60" y="307.50" font-size="2.5" text-anchor="middle" fill="#111" dy="0.90" stroke="#111" stroke-width="0.06">400</text>
<line x1="379.60" y1="304.40" x2="379.60" y2="305.10" stroke="#777" stroke-width="0.3" />
<text x="392.00" y="307.50" font-size="2.5" text-anchor="middle" fill="#111" dy="0.90" stroke="#111" stroke-width="0.06">450</text>
<line x1="392.00" y1="304.40" x2="392.00" y2="305.10" stroke="#777" stroke-width="0.3" />
<text x="404.50" y="307.50" font-size="2.5" text-anchor="middle" fill="#111" dy="0.90" stroke="#111" stroke-width="0.06">500</text>
<line x1="404.50" y1="304.40" x2="404.50" y2="305.10" stroke="#777" stroke-width="0.3" />
<text x="372.40" y="311.40" font-size="3.35" text-anchor="middle" fill="#111" dy="1.20" stroke="#111" stroke-width="0.06">Wavelength (nm)</text>
<text x="321.80" y="272.50" font-size="3.15" text-anchor="middle" fill="#111" dy="1.13" transform="rotate(-90 321.80 272.50)" stroke="#111" stroke-width="0.06">Absorbance</text>
<text x="336.00" y="247.00" font-size="3.27" text-anchor="start" fill="#111" dy="1.17" stroke="#111" stroke-width="0.06">PPy</text>
<path d="M330.6,285.8 L331.4,288.5 L332.2,290.2 L333.0,291.1 L333.8,291.6 L334.6,291.9 L335.4,291.8 L336.2,291.6 L337.0,291.3 L337.8,291.0 L338.6,290.7 L339.4,290.4 L340.2,290.1 L341.0,289.8 L341.8,289.6 L342.6,289.5 L343.4,289.6 L344.2,289.9 L345.0,290.2 L345.8,290.6 L346.6,290.9 L347.4,291.4 L348.2,291.9 L349.0,292.5 L349.8,293.2 L350.6,293.9 L351.4,294.7 L352.2,295.4 L353.0,296.0 L353.8,296.5 L354.6,296.9 L355.4,297.3 L356.2,297.6 L357.0,297.9 L357.8,298.2 L358.6,298.4 L359.4,298.5 L360.2,298.5 L361.0,298.3 L361.8,298.1 L362.6,297.8 L363.4,297.5 L364.2,297.0 L365.0,296.3 L365.8,295.3 L366.6,294.0 L367.4,292.7 L368.2,291.3 L369.0,289.9 L369.8,288.4 L370.6,286.9 L371.4,285.2 L372.2,283.4 L373.0,281.4 L373.8,279.5 L374.6,277.6 L375.4,275.7 L376.2,274.0 L377.0,272.3 L377.8,270.7 L378.6,269.2 L379.4,267.8 L380.2,266.4 L381.0,265.1 L381.8,264.0 L382.6,263.0 L383.4,262.1 L384.2,261.3 L385.0,260.6 L385.8,259.9 L386.6,259.5 L387.4,259.1 L388.2,258.9 L389.0,259.0 L389.8,259.4 L390.6,260.1 L391.4,261.0 L392.2,262.2 L393.0,263.7 L393.8,265.5 L394.6,267.6 L395.4,269.8 L396.2,272.2 L397.0,274.8 L397.8,277.4 L398.6,280.1 L399.4,282.8 L400.2,285.6 L401.0,288.5 L401.8,291.4 L402.6,294.2 L403.4,296.7 L404.2,299.0 L404.5,299.8" fill="none" stroke="#888" stroke-width="0.42" stroke-linejoin="round"/>
<rect x="391.2" y="249.9" width="1.6" height="1.6" fill="#111"/>
<line x1="191.70" y1="455.50" x2="191.70" y2="619.20" stroke="#888" stroke-width="1.3" />
<line x1="393.20" y1="455.50" x2="393.20" y2="619.20" stroke="#333" stroke-width="1.3" />
<line x1="191.10" y1="618.80" x2="393.80" y2="618.80" stroke="#666" stroke-width="1.5" />
<text x="186.30" y="602.30" font-size="7.0" text-anchor="end" fill="#444" dy="2.51" >0.06</text>
<text x="186.30" y="569.85" font-size="7.0" text-anchor="end" fill="#444" dy="2.51" >0.08</text>
<text x="186.30" y="537.40" font-size="7.0" text-anchor="end" fill="#444" dy="2.51" >0.10</text>
<text x="186.30" y="504.95" font-size="7.0" text-anchor="end" fill="#444" dy="2.51" >0.12</text>
<text x="186.30" y="472.50" font-size="7.0" text-anchor="end" fill="#444" dy="2.51" >0.14</text>
<text x="398.50" y="608.70" font-size="7.0" text-anchor="start" fill="#2a2a2a" dy="2.51" stroke="#2a2a2a" stroke-width="0.08">0.04</text>
<text x="398.50" y="589.62" font-size="7.0" text-anchor="start" fill="#2a2a2a" dy="2.51" stroke="#2a2a2a" stroke-width="0.08">0.05</text>
<text x="398.50" y="570.54" font-size="7.0" text-anchor="start" fill="#2a2a2a" dy="2.51" stroke="#2a2a2a" stroke-width="0.08">0.06</text>
<text x="398.50" y="551.46" font-size="7.0" text-anchor="start" fill="#2a2a2a" dy="2.51" stroke="#2a2a2a" stroke-width="0.08">0.07</text>
<text x="398.50" y="532.38" font-size="7.0" text-anchor="start" fill="#2a2a2a" dy="2.51" stroke="#2a2a2a" stroke-width="0.08">0.08</text>
<text x="398.50" y="513.30" font-size="7.0" text-anchor="start" fill="#2a2a2a" dy="2.51" stroke="#2a2a2a" stroke-width="0.08">0.09</text>
<text x="398.50" y="494.22" font-size="7.0" text-anchor="start" fill="#2a2a2a" dy="2.51" stroke="#2a2a2a" stroke-width="0.08">0.10</text>
<text x="398.50" y="475.14" font-size="7.0" text-anchor="start" fill="#2a2a2a" dy="2.51" stroke="#2a2a2a" stroke-width="0.08">0.11</text>
<text x="398.50" y="456.06" font-size="7.0" text-anchor="start" fill="#2a2a2a" dy="2.51" stroke="#2a2a2a" stroke-width="0.08">0.12</text>
<text x="205.80" y="627.15" font-size="7.0" text-anchor="middle" fill="#222" dy="2.51" stroke="#222" stroke-width="0.08">200</text>
<text x="234.60" y="627.15" font-size="7.0" text-anchor="middle" fill="#222" dy="2.51" stroke="#222" stroke-width="0.08">300</text>
<text x="263.40" y="627.15" font-size="7.0" text-anchor="middle" fill="#222" dy="2.51" stroke="#222" stroke-width="0.08">400</text>
<text x="292.20" y="627.15" font-size="7.0" text-anchor="middle" fill="#222" dy="2.51" stroke="#222" stroke-width="0.08">500</text>
<text x="321.00" y="627.15" font-size="7.0" text-anchor="middle" fill="#222" dy="2.51" stroke="#222" stroke-width="0.08">600</text>
<text x="349.80" y="627.15" font-size="7.0" text-anchor="middle" fill="#222" dy="2.51" stroke="#222" stroke-width="0.08">700</text>
<text x="378.60" y="627.15" font-size="7.0" text-anchor="middle" fill="#222" dy="2.51" stroke="#222" stroke-width="0.08">800</text>
<text transform="translate(288.80 637.60) scale(0.95 1)" font-size="8.85" text-anchor="middle" fill="#2a2a2a" dy="3.17" stroke="#222" stroke-width="0.15">Wavelength (nm)</text>
<text x="166.50" y="533.70" font-size="8.3" text-anchor="middle" fill="#2a2a2a" dy="2.97" transform="rotate(-90 166.50 533.70)" stroke="#222" stroke-width="0.15">Absorbance</text>
<text x="419.70" y="539.00" font-size="8.38" text-anchor="middle" fill="#2a2a2a" dy="3.00" transform="rotate(-90 419.70 539.00)" stroke="#222" stroke-width="0.15">Oscillator strength</text>
<text transform="translate(198.90 464.95) scale(1.045 1)" font-size="8.15" text-anchor="start" fill="#111" dy="2.92" stroke="#111" stroke-width="0.1">(e)</text>
<line x1="312.10" y1="468.10" x2="324.00" y2="468.10" stroke="#999" stroke-width="0.8" />
<line x1="312.10" y1="474.70" x2="324.00" y2="474.70" stroke="#7a7aff" stroke-width="0.7" stroke-dasharray="0.9 0.7"/>
<text transform="translate(326.10 468.10) scale(0.957 1)" font-size="5.590749999999999" text-anchor="start" fill="#2a2a2a" dy="2.00" stroke="#2a2a2a" stroke-width="0.1">Indigo-PTh (experimental)</text>
<text transform="translate(326.10 474.70) scale(0.957 1)" font-size="5.590749999999999" text-anchor="start" fill="#2a2a2a" dy="2.00" stroke="#2a2a2a" stroke-width="0.1">Indigo-PTh (theoretical)</text>
<path d="M205.8,602.3 L206.6,595.5 L207.4,588.8 L208.2,582.4 L209.0,575.6 L209.8,568.0 L210.6,559.9 L211.4,552.0 L212.2,544.9 L213.0,538.4 L213.8,532.4 L214.6,526.8 L215.4,521.7 L216.2,517.0 L217.0,512.6 L217.8,508.3 L218.6,504.3 L219.4,501.0 L220.2,498.7 L221.0,497.2 L221.8,496.0 L222.6,495.3 L223.4,495.1 L224.2,495.3 L225.0,496.0 L225.8,496.9 L226.6,498.0 L227.4,499.7 L228.2,501.6 L229.0,503.7 L229.8,505.9 L230.6,508.3 L231.4,510.6 L232.2,512.9 L233.0,515.2 L233.8,517.5 L234.6,519.7 L235.4,521.9 L236.2,524.0 L237.0,526.0 L237.8,527.7 L238.6,529.3 L239.4,530.7 L240.2,532.0 L241.0,533.3 L241.8,534.5 L242.6,535.5 L243.4,536.4 L244.2,537.4 L245.0,538.4 L245.8,539.3 L246.6,540.3 L247.4,541.2 L248.2,542.1 L249.0,543.1 L249.8,544.0 L250.6,544.9 L251.4,545.9 L252.2,546.8 L253.0,547.8 L253.8,548.7 L254.6,549.6 L255.4,550.6 L256.2,551.6 L257.0,552.8 L257.8,554.0 L258.6,555.3 L259.4,556.6 L260.2,557.8 L261.0,559.1 L261.8,560.4 L262.6,561.5 L263.4,562.7 L264.2,563.9 L265.0,565.1 L265.8,566.3 L266.6,567.5 L267.4,568.7 L268.2,569.9 L269.0,571.1 L269.8,572.3 L270.6,573.5 L271.4,574.8 L272.2,576.0 L273.0,577.2 L273.8,578.4 L274.6,579.5 L275.4,580.7 L276.2,581.8 L277.0,583.0 L277.8,584.1 L278.6,585.2 L279.4,586.4 L280.2,587.5 L281.0,588.5 L281.8,589.5 L282.6,590.5 L283.4,591.4 L284.2,592.2 L285.0,592.9 L285.8,593.6 L286.6,594.3 L287.4,594.9 L288.2,595.5 L289.0,596.0 L289.8,596.5 L290.6,596.9 L291.4,597.2 L292.2,597.4 L293.0,597.6 L293.8,597.8 L294.6,597.9 L295.4,598.0 L296.2,598.1 L297.0,598.1 L297.8,598.1 L298.6,598.1 L299.4,598.1 L300.2,598.0 L301.0,597.9 L301.8,597.8 L302.6,597.7 L303.4,597.5 L304.2,597.4 L305.0,597.1 L305.8,596.9 L306.6,596.6 L307.4,596.4 L308.2,596.0 L309.0,595.7 L309.8,595.3 L310.6,594.9 L311.4,594.5 L312.2,594.0 L313.0,593.5 L313.8,593.0 L314.6,592.5 L315.4,591.9 L316.2,591.4 L317.0,590.8 L317.8,590.1 L318.6,589.4 L319.4,588.7 L320.2,588.0 L321.0,587.2 L321.8,586.4 L322.6,585.6 L323.4,584.8 L324.2,584.0 L325.0,583.1 L325.8,582.3 L326.6,581.5 L327.4,580.6 L328.2,579.8 L329.0,579.0 L329.8,578.2 L330.6,577.4 L331.4,576.5 L332.2,575.7 L333.0,574.9 L333.8,574.1 L334.6,573.3 L335.4,572.5 L336.2,571.7 L337.0,571.0 L337.8,570.2 L338.6,569.5 L339.4,568.8 L340.2,568.1 L341.0,567.5 L341.8,566.9 L342.6,566.3 L343.4,565.8 L344.2,565.3 L345.0,564.9 L345.8,564.5 L346.6,564.1 L347.4,563.8 L348.2,563.5 L349.0,563.3 L349.8,563.1 L350.6,563.0 L351.4,562.9 L352.2,562.9 L353.0,563.0 L353.8,563.2 L354.6,563.4 L355.4,563.8 L356.2,564.1 L357.0,564.5 L357.8,565.0 L358.6,565.6 L359.4,566.3 L360.2,567.0 L361.0,567.8 L361.8,568.8 L362.6,569.9 L363.4,571.1 L364.2,572.3 L365.0,573.6 L365.8,574.9 L366.6,576.2 L367.4,577.5 L368.2,578.8 L369.0,580.2 L369.8,581.7 L370.6,583.3 L371.4,584.8 L372.2,586.4 L373.0,587.9 L373.8,589.5 L374.6,591.1 L375.4,592.7 L376.2,594.4 L377.0,596.1 L377.8,597.8 L378.6,599.6 L378.7,599.8" fill="none" stroke="#6a6a6a" stroke-width="0.5" stroke-linejoin="round"/>
<path d="M205.8,607.4 L206.6,600.1 L207.4,592.6 L208.2,585.2 L209.0,577.6 L209.8,570.0 L210.6,562.3 L211.4,554.6 L212.2,547.0 L213.0,539.9 L213.8,533.2 L214.6,527.2 L215.4,521.7 L216.2,517.0 L217.0,512.6 L217.8,508.4 L218.6,504.3 L219.4,500.8 L220.2,497.9 L221.0,495.5 L221.8,493.5 L222.6,491.8 L223.4,490.5 L224.2,489.4 L225.0,488.6 L225.8,488.1 L226.6,488.2 L227.4,488.7 L228.2,489.4 L229.0,490.2 L229.8,491.4 L230.6,492.7 L231.4,494.2 L232.2,495.9 L233.0,497.7 L233.8,499.5 L234.6,501.4 L235.4,503.3 L236.2,505.2 L237.0,507.2 L237.8,509.1 L238.6,511.0 L239.4,512.9 L240.2,514.8 L241.0,516.7 L241.8,518.5 L242.6,520.3 L243.4,522.0 L244.2,523.8 L245.0,525.5 L245.8,527.1 L246.6,528.6 L247.4,530.0 L248.2,531.4 L249.0,532.6 L249.8,533.9 L250.6,535.0 L251.4,536.0 L252.2,536.8 L253.0,537.6 L253.8,538.4 L254.6,539.2 L255.4,540.0 L256.2,540.8 L257.0,541.6 L257.8,542.4 L258.6,543.2 L259.4,544.0 L260.2,544.8 L261.0,545.7 L261.8,546.8 L262.6,548.1 L263.4,549.4 L264.2,551.0 L265.0,552.7 L265.8,554.5 L266.6,556.6 L267.4,558.8 L268.2,561.0 L269.0,563.0 L269.8,564.8 L270.6,566.5 L271.4,568.2 L272.2,569.8 L273.0,571.4 L273.8,573.0 L274.6,574.5 L275.4,575.9 L276.2,577.3 L277.0,578.5 L277.8,579.6 L278.6,580.6 L279.4,581.5 L280.2,582.4 L281.0,583.1 L281.8,583.8 L282.6,584.3 L283.4,584.7 L284.2,585.1 L285.0,585.5 L285.8,585.8 L286.6,586.0 L287.4,586.3 L288.2,586.5 L289.0,586.6 L289.8,586.6 L290.6,586.6 L291.4,586.6 L292.2,586.5 L293.0,586.5 L293.8,586.4 L294.6,586.3 L295.4,586.2 L296.2,586.1 L297.0,585.9 L297.8,585.8 L298.6,585.6 L299.4,585.4 L300.2,585.2 L301.0,584.9 L301.8,584.6 L302.6,584.4 L303.4,584.0 L304.2,583.7 L305.0,583.4 L305.8,583.1 L306.6,582.7 L307.4,582.4 L308.2,582.0 L309.0,581.7 L309.8,581.3 L310.6,580.9 L311.4,580.6 L312.2,580.2 L313.0,579.8 L313.8,579.5 L314.6,579.1 L315.4,578.7 L316.2,578.4 L317.0,578.0 L317.8,577.7 L318.6,577.3 L319.4,577.0 L320.2,576.7 L321.0,576.4 L321.8,576.1 L322.6,575.9 L323.4,575.6 L324.2,575.4 L325.0,575.2 L325.8,575.1 L326.6,575.0 L327.4,574.9 L328.2,574.9 L329.0,574.9 L329.8,574.9 L330.6,574.9 L331.4,575.0 L332.2,575.0 L333.0,575.1 L333.8,575.2 L334.6,575.3 L335.4,575.5 L336.2,575.6 L337.0,575.8 L337.8,576.0 L338.6,576.1 L339.4,576.4 L340.2,576.6 L341.0,576.8 L341.8,577.1 L342.6,577.3 L343.4,577.6 L344.2,577.8 L345.0,578.1 L345.8,578.5 L346.6,578.8 L347.4,579.1 L348.2,579.5 L349.0,579.9 L349.8,580.4 L350.6,580.8 L351.4,581.2 L352.2,581.7 L353.0,582.2 L353.8,582.6 L354.6,583.1 L355.4,583.7 L356.2,584.2 L357.0,584.8 L357.8,585.4 L358.6,586.0 L359.4,586.7 L360.2,587.4 L361.0,588.1 L361.8,588.8 L362.6,589.5 L363.4,590.2 L364.2,591.0 L365.0,591.7 L365.8,592.5 L366.6,593.2 L367.4,594.0 L368.2,594.7 L369.0,595.5 L369.8,596.3 L370.6,597.1 L371.4,597.9 L372.2,598.8 L373.0,599.6 L373.8,600.5 L374.6,601.3 L375.4,602.1 L376.2,602.9 L377.0,603.7 L377.8,604.5 L378.6,605.3 L378.7,605.4" fill="none" stroke="#6666ff" stroke-width="0.52" stroke-linejoin="round" stroke-dasharray="0.85 0.95"/>
<line x1="286.00" y1="486.10" x2="286.00" y2="550.00" stroke="#777" stroke-width="0.45" />
<line x1="286.00" y1="550.00" x2="369.30" y2="550.00" stroke="#777" stroke-width="0.45" />
<text x="281.80" y="489.20" font-size="2.75" text-anchor="middle" fill="#111" dy="0.98" stroke="#111" stroke-width="0.08">1.6</text>
<text x="281.80" y="496.40" font-size="2.75" text-anchor="middle" fill="#111" dy="0.98" stroke="#111" stroke-width="0.08">1.4</text>
<text x="281.80" y="503.60" font-size="2.75" text-anchor="middle" fill="#111" dy="0.98" stroke="#111" stroke-width="0.08">1.2</text>
<text x="281.80" y="510.80" font-size="2.75" text-anchor="middle" fill="#111" dy="0.98" stroke="#111" stroke-width="0.08">1.0</text>
<text x="281.80" y="518.00" font-size="2.75" text-anchor="middle" fill="#111" dy="0.98" stroke="#111" stroke-width="0.08">0.8</text>
<text x="281.80" y="525.20" font-size="2.75" text-anchor="middle" fill="#111" dy="0.98" stroke="#111" stroke-width="0.08">0.6</text>
<text x="281.80" y="532.40" font-size="2.75" text-anchor="middle" fill="#111" dy="0.98" stroke="#111" stroke-width="0.08">0.4</text>
<text x="281.80" y="539.60" font-size="2.75" text-anchor="middle" fill="#111" dy="0.98" stroke="#111" stroke-width="0.08">0.2</text>
<text x="281.80" y="546.70" font-size="2.75" text-anchor="middle" fill="#111" dy="0.98" stroke="#111" stroke-width="0.08">0.0</text>
<text x="285.70" y="554.00" font-size="3.05" text-anchor="middle" fill="#111" dy="1.09" stroke="#111" stroke-width="0.08">200</text>
<text x="297.60" y="554.00" font-size="3.05" text-anchor="middle" fill="#111" dy="1.09" stroke="#111" stroke-width="0.08">250</text>
<text x="309.50" y="554.00" font-size="3.05" text-anchor="middle" fill="#111" dy="1.09" stroke="#111" stroke-width="0.08">300</text>
<text x="321.40" y="554.00" font-size="3.05" text-anchor="middle" fill="#111" dy="1.09" stroke="#111" stroke-width="0.08">350</text>
<text x="333.30" y="554.00" font-size="3.05" text-anchor="middle" fill="#111" dy="1.09" stroke="#111" stroke-width="0.08">400</text>
<text x="345.30" y="554.00" font-size="3.05" text-anchor="middle" fill="#111" dy="1.09" stroke="#111" stroke-width="0.08">450</text>
<text x="357.20" y="554.00" font-size="3.05" text-anchor="middle" fill="#111" dy="1.09" stroke="#111" stroke-width="0.08">500</text>
<text x="369.00" y="554.00" font-size="3.05" text-anchor="middle" fill="#111" dy="1.09" stroke="#111" stroke-width="0.08">550</text>
<text x="327.20" y="558.60" font-size="3.4" text-anchor="middle" fill="#111" dy="1.22" stroke="#111" stroke-width="0.08">Wavelength (nm)</text>
<text x="274.50" y="516.00" font-size="3.34" text-anchor="middle" fill="#111" dy="1.20" transform="rotate(-90 274.50 516.00)" stroke="#111" stroke-width="0.08">Absorbance</text>
<text x="287.70" y="489.80" font-size="3.3" text-anchor="start" fill="#111" dy="1.18" stroke="#111" stroke-width="0.08">PTh</text>
<path d="M286.1,544.6 L286.9,543.2 L287.7,541.9 L288.5,540.7 L289.3,539.6 L290.1,538.5 L290.9,537.6 L291.7,536.8 L292.5,536.1 L293.3,535.5 L294.1,534.9 L294.9,534.5 L295.7,534.2 L296.5,534.0 L297.3,533.9 L298.1,534.0 L298.9,534.2 L299.7,534.5 L300.5,534.9 L301.3,535.3 L302.1,535.8 L302.9,536.5 L303.7,537.2 L304.5,538.1 L305.3,538.9 L306.1,539.6 L306.9,540.3 L307.7,540.9 L308.5,541.6 L309.3,542.2 L310.1,542.8 L310.9,543.3 L311.7,543.7 L312.5,544.1 L313.3,544.4 L314.1,544.6 L314.9,544.6 L315.7,544.5 L316.5,544.1 L317.3,543.7 L318.1,543.2 L318.9,542.6 L319.7,541.8 L320.5,540.7 L321.3,539.4 L322.1,538.1 L322.9,536.6 L323.7,535.1 L324.5,533.6 L325.3,532.0 L326.1,530.3 L326.9,528.7 L327.7,526.9 L328.5,525.0 L329.3,523.1 L330.1,521.2 L330.9,519.2 L331.7,517.3 L332.5,515.5 L333.3,513.8 L334.1,512.3 L334.9,510.9 L335.7,509.7 L336.5,508.6 L337.3,507.7 L338.1,506.8 L338.9,506.0 L339.7,505.4 L340.5,504.9 L341.3,504.5 L342.1,504.3 L342.9,504.2 L343.7,504.4 L344.5,504.7 L345.3,505.3 L346.1,506.2 L346.9,507.4 L347.7,508.8 L348.5,510.5 L349.3,512.4 L350.1,514.4 L350.9,516.6 L351.7,518.9 L352.5,521.3 L353.3,523.8 L354.1,526.2 L354.9,528.6 L355.7,530.7 L356.5,532.7 L357.3,534.5 L358.1,536.2 L358.9,537.8 L359.7,539.2 L360.5,540.5 L361.3,541.5 L362.1,542.3 L362.9,543.0 L363.7,543.6 L364.5,544.1 L365.3,544.5 L366.1,544.8 L366.9,545.1 L367.7,545.3 L368.5,545.5 L368.8,545.5" fill="none" stroke="#888" stroke-width="0.42" stroke-linejoin="round"/>
</g>
<defs><filter id="soft" x="0" y="0" width="100%" height="100%"><feGaussianBlur stdDeviation="0.45"/></filter></defs>
</svg>
</body></html>
